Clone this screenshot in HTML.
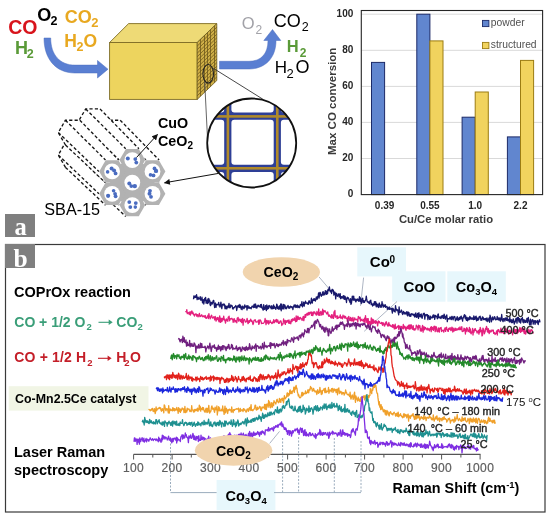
<!DOCTYPE html>
<html><head><meta charset="utf-8"><style>
html,body{margin:0;padding:0;background:#fff;}
body{width:550px;height:517px;overflow:hidden;position:relative;}
svg{position:absolute;left:0;top:0;}
</style></head><body>
<svg width="550" height="517" viewBox="0 0 550 517">
<text x="8.2" y="34.2" font-size="19.5" fill="#d8141c" font-weight="bold" text-anchor="start" font-family="'Liberation Sans', sans-serif" >CO</text>
<text x="37.2" y="20.9" font-size="18" fill="#000" font-weight="bold" text-anchor="start" font-family="'Liberation Sans', sans-serif" >O</text>
<text x="50.6" y="24.8" font-size="12.5" fill="#000" font-weight="bold" text-anchor="start" font-family="'Liberation Sans', sans-serif" >2</text>
<text x="64.8" y="23.2" font-size="18" fill="#e8a820" font-weight="bold" text-anchor="start" font-family="'Liberation Sans', sans-serif" >CO</text>
<text x="91.3" y="27.2" font-size="13" fill="#e8a820" font-weight="bold" text-anchor="start" font-family="'Liberation Sans', sans-serif" >2</text>
<text x="64.2" y="47" font-size="17.5" fill="#e8a820" font-weight="bold" text-anchor="start" font-family="'Liberation Sans', sans-serif" >H</text>
<text x="76.5" y="51.2" font-size="12.5" fill="#e8a820" font-weight="bold" text-anchor="start" font-family="'Liberation Sans', sans-serif" >2</text>
<text x="83.5" y="47" font-size="17.5" fill="#e8a820" font-weight="bold" text-anchor="start" font-family="'Liberation Sans', sans-serif" >O</text>
<text x="15" y="54" font-size="18" fill="#5a9a38" font-weight="bold" text-anchor="start" font-family="'Liberation Sans', sans-serif" >H</text>
<text x="26.8" y="58.2" font-size="12.5" fill="#5a9a38" font-weight="bold" text-anchor="start" font-family="'Liberation Sans', sans-serif" >2</text>
<path d="M44,38 C44,58 55,73 75,73 L97.5,73 L97.5,78 L108,69.2 L97.5,60.5 L97.5,65.1 L75,65.1 C60,65.1 50.7,55 50.7,38 Z" fill="#5a7fd2" stroke="#4a6cbf" stroke-width="0.5"/>
<polygon points="109.6,42.5 128.6,23.6 216.8,23.6 197.2,42.5" fill="#eeda76" stroke="#7e6c26" stroke-width="0.9"/>
<rect x="109.6" y="42.5" width="87.6" height="56.9" fill="#edd45e" stroke="#7e6c26" stroke-width="0.9"/>
<polygon points="197.2,42.5 216.8,23.6 216.8,80.5 197.2,99.4" fill="#d0b048" stroke="#6b5a1e" stroke-width="0.8"/>
<path d="M200.5,39.3 L200.5,96.2 M204.5,35.5 L204.5,92.4 M207.5,32.6 L207.5,89.5 M210.5,29.7 L210.5,86.6 M214.5,25.8 L214.5,82.7 M197.2,46.1 L216.8,27.2 M197.2,49.6 L216.8,30.7 M197.2,53.2 L216.8,34.3 M197.2,56.7 L216.8,37.8 M197.2,60.3 L216.8,41.4 M197.2,63.8 L216.8,44.9 M197.2,67.4 L216.8,48.5 M197.2,71 L216.8,52 M197.2,74.5 L216.8,55.6 M197.2,78.1 L216.8,59.2 M197.2,81.6 L216.8,62.7 M197.2,85.2 L216.8,66.3 M197.2,88.7 L216.8,69.8 M197.2,92.3 L216.8,73.4 M197.2,95.8 L216.8,76.9" stroke="#6a5418" stroke-width="0.75" fill="none"/>
<path d="M219.5,61.3 L249,61.3 C261,61.3 268,54 268,40.5 L263.8,40.5 L272.5,29.5 L280.8,40.5 L276,40.5 C276,59 264,69 249,69 L219.5,69 Z" fill="#5a7fd2" stroke="#4a6cbf" stroke-width="0.5"/>
<text x="241.8" y="29.2" font-size="16.5" fill="#a2a2a8" font-weight="normal" text-anchor="start" font-family="'Liberation Sans', sans-serif" >O</text>
<text x="255.4" y="33.8" font-size="12" fill="#a2a2a8" font-weight="normal" text-anchor="start" font-family="'Liberation Sans', sans-serif" >2</text>
<text x="273.8" y="27" font-size="18" fill="#000" font-weight="normal" text-anchor="start" font-family="'Liberation Sans', sans-serif" >CO</text>
<text x="301.8" y="31" font-size="12.5" fill="#000" font-weight="normal" text-anchor="start" font-family="'Liberation Sans', sans-serif" >2</text>
<text x="286.8" y="52.2" font-size="16.5" fill="#5a9a38" font-weight="bold" text-anchor="start" font-family="'Liberation Sans', sans-serif" >H</text>
<text x="299.8" y="57.3" font-size="12" fill="#5a9a38" font-weight="bold" text-anchor="start" font-family="'Liberation Sans', sans-serif" >2</text>
<text x="274.8" y="72.8" font-size="17" fill="#000" font-weight="normal" text-anchor="start" font-family="'Liberation Sans', sans-serif" >H</text>
<text x="286.6" y="77.6" font-size="13" fill="#000" font-weight="normal" text-anchor="start" font-family="'Liberation Sans', sans-serif" >2</text>
<text x="295.4" y="72.8" font-size="18" fill="#000" font-weight="normal" text-anchor="start" font-family="'Liberation Sans', sans-serif" >O</text>
<line x1="213.2" y1="68.2" x2="262.7" y2="99.1" stroke="#333" stroke-width="0.9"/>
<line x1="204.7" y1="82" x2="207.6" y2="140" stroke="#555" stroke-width="0.9"/>
<ellipse cx="208.2" cy="73.8" rx="5.3" ry="9.3" fill="none" stroke="#222" stroke-width="1.1"/>
<defs><clipPath id="cc"><circle cx="251.7" cy="143" r="44.5"/></clipPath></defs>
<g clip-path="url(#cc)">
<rect x="200" y="90" width="110" height="110" fill="#2e3f96"/>
<rect x="181.9" y="67.5" width="42.3" height="45" rx="3" fill="#fff"/>
<rect x="181.9" y="119.7" width="42.3" height="45" rx="3" fill="#fff"/>
<rect x="181.9" y="171.9" width="42.3" height="45" rx="3" fill="#fff"/>
<rect x="231.4" y="67.5" width="42.3" height="45" rx="3" fill="#fff"/>
<rect x="231.4" y="119.7" width="42.3" height="45" rx="3" fill="#fff"/>
<rect x="231.4" y="171.9" width="42.3" height="45" rx="3" fill="#fff"/>
<rect x="280.9" y="67.5" width="42.3" height="45" rx="3" fill="#fff"/>
<rect x="280.9" y="119.7" width="42.3" height="45" rx="3" fill="#fff"/>
<rect x="280.9" y="171.9" width="42.3" height="45" rx="3" fill="#fff"/>
<rect x="226.6" y="90" width="2.6" height="110" fill="#b08a2a"/>
<rect x="276" y="90" width="2.6" height="110" fill="#b08a2a"/>
<rect x="200" y="115.1" width="110" height="2.6" fill="#b08a2a"/>
<rect x="200" y="167" width="110" height="2.6" fill="#b08a2a"/>
</g>
<circle cx="251.7" cy="143" r="44.5" fill="none" stroke="#111" stroke-width="1.8"/>
<polygon points="105.8,167.4 98.7,155 105.8,142.6 120.2,142.6 159.1,182.4 165.7,193.8 159.1,205.2 145.9,205.2" fill="#fff" stroke="none"/>
<path d="M105.8,167.4 L98.7,155 L105.8,142.6 L120.2,142.6 M105.8,167.4 L145.9,205.2 M98.7,155 L139.3,193.8 M105.8,142.6 L145.9,182.4 M120.2,142.6 L159.1,182.4" fill="none" stroke="#151515" stroke-width="1.35" stroke-dasharray="3.2,2.2"/>
<polygon points="85.7,178.7 78.5,166.3 85.7,153.9 100,153.9 138.9,193.7 145.5,205.1 138.9,216.5 125.7,216.5" fill="#fff" stroke="none"/>
<path d="M85.7,178.7 L78.5,166.3 L85.7,153.9 L100,153.9 M85.7,178.7 L125.7,216.5 M78.5,166.3 L119.1,205.1 M85.7,153.9 L125.7,193.7 M100,153.9 L138.9,193.7" fill="none" stroke="#151515" stroke-width="1.35" stroke-dasharray="3.2,2.2"/>
<polygon points="105.8,145 98.7,132.6 105.8,120.2 120.2,120.2 159.1,160 165.7,171.4 159.1,182.8 145.9,182.8" fill="#fff" stroke="none"/>
<path d="M105.8,145 L98.7,132.6 L105.8,120.2 L120.2,120.2 M105.8,145 L145.9,182.8 M98.7,132.6 L139.3,171.4 M105.8,120.2 L145.9,160 M120.2,120.2 L159.1,160" fill="none" stroke="#151515" stroke-width="1.35" stroke-dasharray="3.2,2.2"/>
<polygon points="85.7,156.2 78.5,143.8 85.7,131.4 100,131.4 138.9,171.2 145.5,182.6 138.9,194 125.7,194" fill="#fff" stroke="none"/>
<path d="M85.7,156.2 L78.5,143.8 L85.7,131.4 L100,131.4 M85.7,156.2 L125.7,194 M78.5,143.8 L119.1,182.6 M85.7,131.4 L125.7,171.2 M100,131.4 L138.9,171.2" fill="none" stroke="#151515" stroke-width="1.35" stroke-dasharray="3.2,2.2"/>
<polygon points="65.5,167.4 58.3,155 65.4,142.6 79.8,142.6 118.7,182.4 125.3,193.8 118.7,205.2 105.5,205.2" fill="#fff" stroke="none"/>
<path d="M65.5,167.4 L58.3,155 L65.4,142.6 L79.8,142.6 M65.5,167.4 L105.5,205.2 M58.3,155 L98.9,193.8 M65.4,142.6 L105.5,182.4 M79.8,142.6 L118.7,182.4" fill="none" stroke="#151515" stroke-width="1.35" stroke-dasharray="3.2,2.2"/>
<polygon points="85.7,133.7 78.5,121.3 85.7,108.9 100,108.9 138.9,148.7 145.5,160.1 138.9,171.5 125.7,171.5" fill="#fff" stroke="none"/>
<path d="M85.7,133.7 L78.5,121.3 L85.7,108.9 L100,108.9 M85.7,133.7 L125.7,171.5 M78.5,121.3 L119.1,160.1 M85.7,108.9 L125.7,148.7 M100,108.9 L138.9,148.7" fill="none" stroke="#151515" stroke-width="1.35" stroke-dasharray="3.2,2.2"/>
<polygon points="65.5,145 58.3,132.6 65.4,120.2 79.8,120.2 118.7,160 125.3,171.4 118.7,182.8 105.5,182.8" fill="#fff" stroke="none"/>
<path d="M65.5,145 L58.3,132.6 L65.4,120.2 L79.8,120.2 M65.5,145 L105.5,182.8 M58.3,132.6 L98.9,171.4 M65.4,120.2 L105.5,160 M79.8,120.2 L118.7,160" fill="none" stroke="#151515" stroke-width="1.35" stroke-dasharray="3.2,2.2"/>
<polygon points="132.3,160.1 152.5,171.4 152.5,193.8 132.3,205.1 112.1,193.8 112.1,171.4" fill="#b2b2b2" stroke="#b2b2b2" stroke-width="4"/>
<polygon points="145.2,182.6 138.8,193.8 125.9,193.8 119.4,182.6 125.9,171.4 138.8,171.4" fill="#b2b2b2"/>
<polygon points="145.2,160.1 138.8,171.3 125.9,171.3 119.4,160.1 125.9,148.9 138.8,148.9" fill="#b2b2b2"/>
<polygon points="145.2,205.1 138.8,216.3 125.9,216.3 119.4,205.1 125.9,193.9 138.8,193.9" fill="#b2b2b2"/>
<polygon points="125,171.4 118.5,182.6 105.6,182.6 99.2,171.4 105.6,160.2 118.5,160.2" fill="#b2b2b2"/>
<polygon points="165.4,171.4 158.9,182.6 146.1,182.6 139.6,171.4 146,160.2 158.9,160.2" fill="#b2b2b2"/>
<polygon points="125,193.8 118.5,205 105.6,205 99.2,193.8 105.6,182.6 118.5,182.6" fill="#b2b2b2"/>
<polygon points="165.4,193.8 158.9,205 146.1,205 139.6,193.8 146,182.6 158.9,182.6" fill="#b2b2b2"/>
<circle cx="132.3" cy="182.6" r="7.9" fill="#fff"/>
<circle cx="132.3" cy="160.1" r="7.9" fill="#fff"/>
<circle cx="132.3" cy="205.1" r="7.9" fill="#fff"/>
<circle cx="112.1" cy="171.4" r="7.9" fill="#fff"/>
<circle cx="152.5" cy="171.4" r="7.9" fill="#fff"/>
<circle cx="112.1" cy="193.8" r="7.9" fill="#fff"/>
<circle cx="152.5" cy="193.8" r="7.9" fill="#fff"/>
<circle cx="127.8" cy="158.6" r="2" fill="#4a6cc0"/>
<circle cx="135.3" cy="159.1" r="1.9" fill="#4a6cc0"/>
<circle cx="136.3" cy="162.6" r="1.9" fill="#4a6cc0"/>
<circle cx="129.3" cy="183.6" r="2" fill="#4a6cc0"/>
<circle cx="131.3" cy="186.1" r="1.9" fill="#4a6cc0"/>
<circle cx="134.8" cy="186.1" r="2.2" fill="#4a6cc0"/>
<circle cx="129.3" cy="202.1" r="1.9" fill="#4a6cc0"/>
<circle cx="130.3" cy="207.1" r="1.9" fill="#4a6cc0"/>
<circle cx="135.8" cy="203.1" r="1.9" fill="#4a6cc0"/>
<circle cx="135.3" cy="207.1" r="1.8" fill="#4a6cc0"/>
<circle cx="107.6" cy="171.9" r="1.8" fill="#4a6cc0"/>
<circle cx="111.6" cy="168.4" r="2" fill="#4a6cc0"/>
<circle cx="114.1" cy="170.4" r="2" fill="#4a6cc0"/>
<circle cx="115.6" cy="173.4" r="1.9" fill="#4a6cc0"/>
<circle cx="154.5" cy="168.4" r="1.9" fill="#4a6cc0"/>
<circle cx="156" cy="170.9" r="2.2" fill="#4a6cc0"/>
<circle cx="153.5" cy="175.4" r="1.9" fill="#4a6cc0"/>
<circle cx="150.5" cy="174.9" r="1.8" fill="#4a6cc0"/>
<circle cx="108.1" cy="195.8" r="2.1" fill="#4a6cc0"/>
<circle cx="113.6" cy="190.8" r="1.8" fill="#4a6cc0"/>
<circle cx="115.1" cy="193.8" r="1.9" fill="#4a6cc0"/>
<circle cx="115.6" cy="196.3" r="1.9" fill="#4a6cc0"/>
<circle cx="150" cy="190.8" r="1.9" fill="#4a6cc0"/>
<circle cx="149.5" cy="193.8" r="2" fill="#4a6cc0"/>
<circle cx="151" cy="196.8" r="1.9" fill="#4a6cc0"/>
<defs><marker id="ah" viewBox="0 0 10 10" refX="9" refY="5" markerWidth="6.5" markerHeight="6" orient="auto"><path d="M0,0 L10,5 L0,10 z" fill="#111"/></marker></defs>
<line x1="136.5" y1="157.5" x2="157.5" y2="134.5" stroke="#111" stroke-width="1" marker-end="url(#ah)"/>
<line x1="218.5" y1="173.4" x2="164.5" y2="182.8" stroke="#111" stroke-width="1" marker-end="url(#ah)"/>
<text x="158" y="128.4" font-size="14.3" fill="#000" font-weight="bold" text-anchor="start" font-family="'Liberation Sans', sans-serif" >CuO</text>
<text x="158" y="145.8" font-size="14.3" fill="#000" font-weight="bold" font-family="'Liberation Sans', sans-serif">CeO<tspan font-size="10" dy="3.3">2</tspan></text>
<text x="44.3" y="215.4" font-size="16.2" fill="#000" font-weight="normal" text-anchor="start" font-family="'Liberation Sans', sans-serif" >SBA-15</text>
<rect x="5" y="214" width="30" height="23" fill="#7f7f7f"/>
<text x="14.5" y="234.6" font-size="24.5" fill="#fff" font-weight="bold" text-anchor="start" font-family="'Liberation Serif', serif" >a</text>
<line x1="361.3" y1="158.5" x2="542.6" y2="158.5" stroke="#d9d9d9" stroke-width="1"/>
<line x1="361.3" y1="122.4" x2="542.6" y2="122.4" stroke="#d9d9d9" stroke-width="1"/>
<line x1="361.3" y1="86.4" x2="542.6" y2="86.4" stroke="#d9d9d9" stroke-width="1"/>
<line x1="361.3" y1="50.3" x2="542.6" y2="50.3" stroke="#d9d9d9" stroke-width="1"/>
<line x1="361.3" y1="14.2" x2="542.6" y2="14.2" stroke="#d9d9d9" stroke-width="1"/>
<rect x="371.5" y="62.4" width="13.1" height="132.2" fill="#6186cf" stroke="#1c2a68" stroke-width="1"/>
<text x="384.6" y="208.8" font-size="10" fill="#262626" font-weight="bold" text-anchor="middle" font-family="'Liberation Sans', sans-serif" >0.39</text>
<rect x="416.8" y="14.2" width="13.1" height="180.4" fill="#6186cf" stroke="#1c2a68" stroke-width="1"/>
<rect x="429.9" y="40.9" width="13.1" height="153.7" fill="#f1d35e" stroke="#9c7c12" stroke-width="1"/>
<text x="429.9" y="208.8" font-size="10" fill="#262626" font-weight="bold" text-anchor="middle" font-family="'Liberation Sans', sans-serif" >0.55</text>
<rect x="462.1" y="117.2" width="13.1" height="77.4" fill="#6186cf" stroke="#1c2a68" stroke-width="1"/>
<rect x="475.2" y="92" width="13.1" height="102.6" fill="#f1d35e" stroke="#9c7c12" stroke-width="1"/>
<text x="475.2" y="208.8" font-size="10" fill="#262626" font-weight="bold" text-anchor="middle" font-family="'Liberation Sans', sans-serif" >1.0</text>
<rect x="507.4" y="136.9" width="13.1" height="57.7" fill="#6186cf" stroke="#1c2a68" stroke-width="1"/>
<rect x="520.5" y="60.4" width="13.1" height="134.2" fill="#f1d35e" stroke="#9c7c12" stroke-width="1"/>
<text x="520.5" y="208.8" font-size="10" fill="#262626" font-weight="bold" text-anchor="middle" font-family="'Liberation Sans', sans-serif" >2.2</text>
<rect x="361.3" y="10.5" width="181.3" height="184.1" fill="none" stroke="#262626" stroke-width="1.1"/>
<text x="353.3" y="196.9" font-size="10" fill="#262626" font-weight="bold" text-anchor="end" font-family="'Liberation Sans', sans-serif" >0</text>
<text x="353.3" y="160.8" font-size="10" fill="#262626" font-weight="bold" text-anchor="end" font-family="'Liberation Sans', sans-serif" >20</text>
<text x="353.3" y="124.7" font-size="10" fill="#262626" font-weight="bold" text-anchor="end" font-family="'Liberation Sans', sans-serif" >40</text>
<text x="353.3" y="88.7" font-size="10" fill="#262626" font-weight="bold" text-anchor="end" font-family="'Liberation Sans', sans-serif" >60</text>
<text x="353.3" y="52.6" font-size="10" fill="#262626" font-weight="bold" text-anchor="end" font-family="'Liberation Sans', sans-serif" >80</text>
<text x="353.3" y="16.5" font-size="10" fill="#262626" font-weight="bold" text-anchor="end" font-family="'Liberation Sans', sans-serif" >100</text>
<text x="446" y="223.2" font-size="11.3" fill="#3a3a3a" font-weight="bold" text-anchor="middle" font-family="'Liberation Sans', sans-serif" >Cu/Ce molar ratio</text>
<text x="0" y="0" font-size="11.5" fill="#3a3a3a" font-weight="bold" font-family="'Liberation Sans', sans-serif" text-anchor="middle" transform="translate(335.9,101.3) rotate(-90)">Max CO conversion</text>
<rect x="482.5" y="20.4" width="6.4" height="6.2" fill="#6186cf" stroke="#1c2a68" stroke-width="0.9"/>
<text x="490.8" y="26.2" font-size="10.3" fill="#505050" font-weight="normal" text-anchor="start" font-family="'Liberation Sans', sans-serif" >powder</text>
<rect x="482.5" y="42.4" width="6.4" height="6.2" fill="#f1d35e" stroke="#9c7c12" stroke-width="0.9"/>
<text x="490.8" y="47.7" font-size="10.3" fill="#505050" font-weight="normal" text-anchor="start" font-family="'Liberation Sans', sans-serif" >structured</text>
<rect x="5.5" y="244.5" width="539.5" height="267.5" fill="none" stroke="#3a3a3a" stroke-width="1.2"/>
<rect x="5" y="244" width="30" height="24" fill="#7f7f7f"/>
<text x="13.6" y="266.5" font-size="25.5" fill="#fff" font-weight="bold" text-anchor="start" font-family="'Liberation Serif', serif" >b</text>
<text x="14" y="297.4" font-size="14.5" fill="#000" font-weight="bold" text-anchor="start" font-family="'Liberation Sans', sans-serif" >COPrOx reaction</text>
<text x="14.3" y="327" font-size="14" fill="#3a9e78" font-weight="bold" text-anchor="start" font-family="'Liberation Sans', sans-serif" textLength="71" lengthAdjust="spacing">CO + 1/2 O</text>
<text x="86.6" y="330.2" font-size="9.5" fill="#3a9e78" font-weight="bold" text-anchor="start" font-family="'Liberation Sans', sans-serif" >2</text>
<line x1="98.5" y1="322.3" x2="110.7" y2="322.3" stroke="#3a9e78" stroke-width="1.1"/>
<polygon points="108.7,319.6 112.7,322.3 108.7,325" fill="#3a9e78"/>
<text x="116.3" y="327" font-size="14" fill="#3a9e78" font-weight="bold" text-anchor="start" font-family="'Liberation Sans', sans-serif" >CO</text>
<text x="137.4" y="330.2" font-size="9.5" fill="#3a9e78" font-weight="bold" text-anchor="start" font-family="'Liberation Sans', sans-serif" >2</text>
<text x="14.3" y="362.4" font-size="14" fill="#c41e28" font-weight="bold" text-anchor="start" font-family="'Liberation Sans', sans-serif" textLength="71.9" lengthAdjust="spacing">CO + 1/2 H</text>
<text x="87.2" y="365.6" font-size="9.5" fill="#c41e28" font-weight="bold" text-anchor="start" font-family="'Liberation Sans', sans-serif" >2</text>
<line x1="98" y1="358.3" x2="109.6" y2="358.3" stroke="#c41e28" stroke-width="1.1"/>
<polygon points="107.6,355.6 111.6,358.3 107.6,361" fill="#c41e28"/>
<text x="116.3" y="362.4" font-size="14" fill="#c41e28" font-weight="bold" text-anchor="start" font-family="'Liberation Sans', sans-serif" >H</text>
<text x="124.3" y="365.6" font-size="9.5" fill="#c41e28" font-weight="bold" text-anchor="start" font-family="'Liberation Sans', sans-serif" >2</text>
<text x="130" y="362.4" font-size="14" fill="#c41e28" font-weight="bold" text-anchor="start" font-family="'Liberation Sans', sans-serif" >O</text>
<rect x="8.7" y="386.2" width="139.8" height="24.4" fill="#f1f5e5"/>
<text x="15.1" y="402.6" font-size="12.4" fill="#000" font-weight="bold" text-anchor="start" font-family="'Liberation Sans', sans-serif" >Co-Mn2.5Ce catalyst</text>
<text x="14" y="456.9" font-size="14.5" fill="#000" font-weight="bold" text-anchor="start" font-family="'Liberation Sans', sans-serif" >Laser Raman</text>
<text x="14" y="474.5" font-size="14.5" fill="#000" font-weight="bold" text-anchor="start" font-family="'Liberation Sans', sans-serif" >spectroscopy</text>
<rect x="357.3" y="247.3" width="48.7" height="29.1" fill="#e7f7fc"/>
<rect x="392.2" y="271.3" width="53.3" height="30.4" fill="#e7f7fc"/>
<rect x="447.3" y="271.3" width="58.5" height="30.4" fill="#e7f7fc"/>
<rect x="216.6" y="480" width="58.8" height="30" fill="#e7f7fc"/>
<text x="369.8" y="267.4" font-size="15" fill="#000" font-weight="bold" text-anchor="start" font-family="'Liberation Sans', sans-serif" >Co</text>
<text x="389.4" y="263" font-size="10" fill="#000" font-weight="bold" text-anchor="start" font-family="'Liberation Sans', sans-serif" >0</text>
<text x="403.6" y="291.6" font-size="15" fill="#000" font-weight="bold" text-anchor="start" font-family="'Liberation Sans', sans-serif" >CoO</text>
<text x="455.8" y="291.6" font-size="14.5" fill="#000" font-weight="bold" font-family="'Liberation Sans', sans-serif">Co<tspan font-size="9.5" dy="3">3</tspan><tspan dy="-3">O</tspan><tspan font-size="9.5" dy="3">4</tspan></text>
<text x="225.5" y="501" font-size="14.5" fill="#000" font-weight="bold" font-family="'Liberation Sans', sans-serif">Co<tspan font-size="9.5" dy="3">3</tspan><tspan dy="-3">O</tspan><tspan font-size="9.5" dy="3">4</tspan></text>
<ellipse cx="281.4" cy="272" rx="38.7" ry="14.8" fill="#f1d4ae"/>
<text x="263.6" y="277.1" font-size="14.2" fill="#000" font-weight="bold" font-family="'Liberation Sans', sans-serif">CeO<tspan font-size="10" dy="3.2">2</tspan></text>
<line x1="319" y1="276.9" x2="329.3" y2="289" stroke="#98a2b4" stroke-width="0.8"/>
<line x1="363.6" y1="277.6" x2="360.5" y2="305.8" stroke="#98a2b4" stroke-width="0.8"/>
<line x1="397" y1="301.5" x2="364.2" y2="331.3" stroke="#98a2b4" stroke-width="0.8"/>
<line x1="170.5" y1="440" x2="170.5" y2="492.6" stroke="#8fa3b5" stroke-width="0.9" stroke-dasharray="2,1.5"/>
<line x1="282.6" y1="438" x2="282.6" y2="492.6" stroke="#8fa3b5" stroke-width="0.9" stroke-dasharray="2,1.5"/>
<line x1="298.6" y1="437" x2="298.6" y2="492.6" stroke="#8fa3b5" stroke-width="0.9" stroke-dasharray="2,1.5"/>
<line x1="334.3" y1="438" x2="334.3" y2="492.6" stroke="#8fa3b5" stroke-width="0.9" stroke-dasharray="2,1.5"/>
<line x1="361" y1="441" x2="361" y2="492.6" stroke="#8fa3b5" stroke-width="0.9" stroke-dasharray="2,1.5"/>
<line x1="170.5" y1="492.6" x2="216.6" y2="492.6" stroke="#8fa3b5" stroke-width="0.9"/>
<line x1="274" y1="492.6" x2="361" y2="492.6" stroke="#8fa3b5" stroke-width="0.9"/>
<polyline points="193.5,299.3 193.9,295.8 194.4,296.8 194.8,297.6 195.3,295.8 195.7,297.3 196.2,297.5 196.6,294.7 197.1,299.6 197.5,299.0 198.0,297.1 198.4,298.1 198.9,299.4 199.3,298.3 199.8,298.5 200.2,296.6 200.7,300.2 201.1,299.7 201.6,300.1 202.0,297.2 202.5,302.8 202.9,300.4 203.4,299.7 203.8,304.0 204.3,300.6 204.7,298.4 205.2,300.4 205.6,297.3 206.1,303.1 206.5,300.7 207.0,300.3 207.4,303.5 207.9,299.0 208.3,302.8 208.8,298.5 209.2,301.1 209.7,300.3 210.1,304.9 210.6,305.6 211.0,302.1 211.5,304.2 211.9,302.6 212.4,304.0 212.8,301.9 213.3,300.4 213.7,300.4 214.2,304.2 214.6,307.5 215.1,304.3 215.5,303.0 216.0,307.3 216.4,304.6 216.9,304.5 217.3,304.9 217.8,304.3 218.2,304.2 218.7,302.4 219.1,305.8 219.6,304.9 220.0,307.2 220.5,304.7 220.9,302.2 221.4,305.4 221.8,308.6 222.3,305.2 222.7,304.4 223.2,304.0 223.6,304.4 224.1,305.7 224.5,304.2 225.0,308.8 225.4,305.8 225.9,306.5 226.3,308.7 226.8,308.9 227.2,306.0 227.7,306.9 228.1,307.6 228.6,306.0 229.0,303.4 229.5,307.5 229.9,307.9 230.4,307.1 230.8,304.9 231.3,306.1 231.7,305.5 232.2,306.0 232.6,308.7 233.1,309.1 233.5,307.7 234.0,307.5 234.4,307.7 234.9,306.6 235.3,306.5 235.8,305.5 236.2,306.5 236.7,310.5 237.1,308.1 237.6,306.1 238.0,305.9 238.5,305.2 238.9,307.3 239.4,307.4 239.8,304.3 240.3,307.6 240.7,305.8 241.2,309.2 241.6,307.1 242.1,309.7 242.5,306.1 243.0,306.4 243.4,307.4 243.9,308.7 244.3,307.9 244.8,304.8 245.2,307.2 245.7,307.0 246.1,306.2 246.6,305.9 247.0,310.0 247.5,306.3 247.9,305.6 248.4,308.1 248.8,307.3 249.3,306.9 249.7,308.4 250.2,307.9 250.6,307.7 251.1,308.8 251.5,307.6 252.0,306.1 252.4,306.6 252.9,306.3 253.3,307.6 253.8,305.4 254.2,304.1 254.7,307.4 255.1,305.0 255.6,304.0 256.0,307.9 256.5,306.1 256.9,308.1 257.4,306.4 257.8,305.4 258.3,305.2 258.7,306.4 259.2,306.8 259.6,305.9 260.1,306.8 260.5,304.7 261.0,307.3 261.4,304.3 261.9,307.0 262.3,308.5 262.8,309.2 263.2,310.2 263.7,304.7 264.1,308.6 264.6,309.4 265.0,309.0 265.5,305.7 265.9,308.0 266.4,310.5 266.8,304.8 267.3,308.1 267.7,309.2 268.2,306.1 268.6,308.3 269.1,305.5 269.5,305.9 270.0,305.9 270.4,307.6 270.9,307.1 271.3,308.9 271.8,305.7 272.2,307.1 272.7,308.9 273.1,308.3 273.6,305.0 274.0,308.4 274.5,306.5 274.9,308.0 275.4,307.8 275.8,309.4 276.3,307.5 276.7,304.1 277.2,305.0 277.6,308.5 278.1,306.9 278.5,309.2 279.0,307.8 279.4,306.0 279.9,309.1 280.3,305.9 280.8,303.8 281.2,310.8 281.7,304.1 282.1,308.4 282.6,308.9 283.0,307.6 283.5,304.4 283.9,309.0 284.4,304.8 284.8,305.0 285.3,306.7 285.7,308.6 286.2,307.8 286.6,308.7 287.1,306.5 287.5,307.0 288.0,305.4 288.4,306.8 288.9,308.3 289.3,306.8 289.8,308.1 290.2,306.3 290.7,306.2 291.1,307.2 291.6,306.7 292.0,307.9 292.5,307.2 292.9,309.7 293.4,306.3 293.8,306.2 294.3,304.8 294.7,306.5 295.2,307.5 295.6,305.0 296.1,306.1 296.5,307.3 297.0,305.8 297.4,305.1 297.9,307.5 298.3,306.0 298.8,306.4 299.2,307.6 299.7,307.5 300.1,304.9 300.6,304.4 301.0,305.6 301.5,304.7 301.9,301.6 302.4,306.8 302.8,304.5 303.3,305.6 303.7,302.2 304.2,306.2 304.6,302.9 305.1,303.5 305.5,301.2 306.0,303.1 306.4,302.9 306.9,302.8 307.3,303.7 307.8,302.9 308.2,304.3 308.7,301.7 309.1,300.6 309.6,302.1 310.0,303.0 310.5,303.8 310.9,302.8 311.4,298.2 311.8,301.5 312.3,303.1 312.7,300.5 313.2,299.2 313.6,300.3 314.1,298.7 314.5,300.4 315.0,299.0 315.4,301.1 315.9,299.3 316.3,297.0 316.8,298.9 317.2,299.2 317.7,296.4 318.1,296.4 318.6,292.9 319.0,298.1 319.5,295.3 319.9,292.4 320.4,292.7 320.8,295.0 321.3,296.4 321.7,294.6 322.2,295.3 322.6,292.3 323.1,291.6 323.5,295.0 324.0,294.0 324.4,292.8 324.9,294.8 325.3,290.6 325.8,291.2 326.2,293.4 326.7,294.4 327.1,291.0 327.6,293.5 328.0,289.3 328.5,290.6 328.9,289.4 329.4,286.9 329.8,290.3 330.3,291.8 330.7,290.3 331.2,290.7 331.6,293.5 332.1,289.4 332.5,289.3 333.0,291.0 333.4,290.4 333.9,295.1 334.3,293.6 334.8,292.0 335.2,292.7 335.7,298.9 336.1,293.4 336.6,293.4 337.0,295.5 337.5,296.3 337.9,295.8 338.4,294.1 338.8,293.9 339.3,297.1 339.7,296.2 340.2,293.7 340.6,298.7 341.1,298.3 341.5,296.7 342.0,296.9 342.4,298.0 342.9,296.6 343.3,295.7 343.8,298.8 344.2,296.0 344.7,299.3 345.1,296.4 345.6,298.9 346.0,299.1 346.5,302.5 346.9,297.8 347.4,297.2 347.8,298.6 348.3,297.8 348.7,298.7 349.2,300.5 349.6,301.1 350.1,302.6 350.5,298.6 351.0,304.4 351.4,303.3 351.9,299.6 352.3,296.1 352.8,299.8 353.2,300.1 353.7,296.1 354.1,300.2 354.6,299.8 355.0,298.8 355.5,301.2 355.9,301.9 356.4,299.4 356.8,300.6 357.3,299.2 357.7,299.0 358.2,300.5 358.6,301.2 359.1,299.4 359.5,296.6 360.0,301.4 360.4,297.8 360.9,300.7 361.3,303.5 361.8,300.5 362.2,298.6 362.7,298.1 363.1,302.6 363.6,300.6 364.0,301.6 364.5,302.4 364.9,300.9 365.4,300.6 365.8,299.6 366.3,296.1 366.7,298.9 367.2,301.6 367.6,301.5 368.1,302.6 368.5,301.9 369.0,302.5 369.4,303.7 369.9,301.0 370.3,302.2 370.8,300.1 371.2,304.6 371.7,303.2 372.1,304.1 372.6,306.0 373.0,305.4 373.5,303.6 373.9,305.2 374.4,301.6 374.8,304.9 375.3,304.5 375.7,301.7 376.2,306.8 376.6,303.5 377.1,306.0 377.5,304.3 378.0,306.8 378.4,307.5 378.9,304.0 379.3,303.0 379.8,305.5 380.2,307.3 380.7,305.4 381.1,305.1 381.6,307.1 382.0,301.7 382.5,305.3 382.9,304.2 383.4,307.2 383.8,305.6 384.3,305.1 384.7,306.5 385.2,304.7 385.6,307.3 386.1,306.3 386.5,306.9 387.0,306.5 387.4,309.4 387.9,307.7 388.3,308.9 388.8,309.0 389.2,306.9 389.7,309.4 390.1,309.1 390.6,309.2 391.0,308.2 391.5,308.3 391.9,310.5 392.4,313.0 392.8,308.1 393.3,310.6 393.7,309.2 394.2,311.3 394.6,310.9 395.1,312.1 395.5,305.7 396.0,309.6 396.4,309.1 396.9,310.7 397.3,309.8 397.8,310.1 398.2,312.5 398.7,314.8 399.1,306.9 399.6,311.3 400.0,312.5 400.5,312.1 400.9,311.7 401.4,310.0 401.8,310.9 402.3,313.8 402.7,314.5 403.2,313.0 403.6,311.5 404.1,313.2 404.5,312.7 405.0,314.2 405.4,313.6 405.9,312.4 406.3,313.9 406.8,311.7 407.2,315.2 407.7,315.9 408.1,312.0 408.6,314.9 409.0,312.6 409.5,316.2 409.9,316.0 410.4,314.2 410.8,316.3 411.3,314.0 411.7,313.7 412.2,313.9 412.6,314.7 413.1,314.4 413.5,315.3 414.0,314.1 414.4,316.5 414.9,317.0 415.3,314.5 415.8,312.9 416.2,316.7 416.7,317.4 417.1,315.3 417.6,313.5 418.0,316.2 418.5,318.4 418.9,312.7 419.4,316.7 419.8,315.4 420.3,314.6 420.7,316.9 421.2,313.9 421.6,316.7 422.1,318.4 422.5,316.6 423.0,314.8 423.4,313.3 423.9,314.2 424.3,313.3 424.8,319.2 425.2,316.1 425.7,314.8 426.1,314.4 426.6,314.8 427.0,316.1 427.5,314.6 427.9,319.6 428.4,315.6 428.8,315.6 429.3,317.5 429.7,319.4 430.2,319.3 430.6,316.2 431.1,317.5 431.5,317.3 432.0,318.0 432.4,317.5 432.9,315.5 433.3,314.9 433.8,317.4 434.2,315.1 434.7,319.4 435.1,317.2 435.6,315.4 436.0,316.6 436.5,316.3 436.9,317.0 437.4,318.8 437.8,314.7 438.3,314.0 438.7,317.8 439.2,316.9 439.6,317.5 440.1,318.0 440.5,317.0 441.0,318.6 441.4,315.8 441.9,317.4 442.3,315.9 442.8,315.4 443.2,318.4 443.7,318.3 444.1,314.1 444.6,315.5 445.0,317.9 445.5,319.2 445.9,316.3 446.4,317.1 446.8,315.0 447.3,321.7 447.7,318.3 448.2,319.0 448.6,318.6 449.1,319.1 449.5,318.5 450.0,316.9 450.4,318.8 450.9,317.7 451.3,319.7 451.8,316.3 452.2,316.6 452.7,318.7 453.1,319.8 453.6,317.8 454.0,316.4 454.5,317.4 454.9,316.8 455.4,320.9 455.8,319.2 456.3,319.8 456.7,318.2 457.2,316.7 457.6,319.7 458.1,320.5 458.5,318.7 459.0,317.7 459.4,319.6 459.9,317.1 460.3,319.1 460.8,316.6 461.2,316.1 461.7,318.8 462.1,318.4 462.6,321.1 463.0,317.4 463.5,317.9 463.9,315.9 464.4,314.7 464.8,314.8 465.3,318.7 465.7,315.9 466.2,319.8 466.6,320.3 467.1,317.4 467.5,320.8 468.0,318.3 468.4,319.9 468.9,317.6 469.3,319.6 469.8,316.4 470.2,319.1 470.7,317.3 471.1,317.8 471.6,319.2 472.0,318.4 472.5,318.0 472.9,319.4 473.4,319.5 473.8,315.8 474.3,319.2 474.7,319.4 475.2,317.0 475.6,318.9 476.1,316.1 476.5,320.8 477.0,317.9 477.4,318.2 477.9,320.4 478.3,318.2 478.8,319.5 479.2,316.7 479.7,317.5 480.1,316.1 480.6,318.2 481.0,320.3 481.5,319.0 481.9,320.1 482.4,316.9 482.8,317.1 483.3,317.9 483.7,319.7 484.2,319.3 484.6,318.7 485.1,319.8 485.5,318.5 486.0,318.8 486.4,321.0 486.9,317.8 487.3,319.2 487.8,321.6 488.2,319.1 488.7,320.1 489.1,317.9 489.6,322.3 490.0,315.2 490.5,317.1 490.9,317.3 491.4,321.8 491.8,319.7 492.3,318.7 492.7,317.0 493.2,319.8 493.6,319.4 494.1,318.0 494.5,316.7 495.0,317.4 495.4,319.6 495.9,319.8 496.3,319.4 496.8,319.1 497.2,316.4 497.7,319.5 498.1,317.7 498.6,319.5 499.0,320.2 499.5,318.3 499.9,317.8 500.4,321.2 500.8,320.2 501.3,318.5 501.7,314.5 502.2,319.6 502.6,320.7 503.1,321.6 503.5,318.6 504.0,318.7 504.4,319.0 504.9,321.2 505.3,317.8 505.8,319.7 506.2,318.3 506.7,320.4 507.1,317.3 507.6,320.6 508.0,319.2 508.5,319.6 508.9,320.9 509.4,322.0 509.8,317.2 510.3,321.8 510.7,321.1 511.2,319.7 511.6,322.6 512.1,320.6 512.5,322.5 513.0,319.3 513.4,318.9 513.9,322.4 514.3,324.1 514.8,321.5 515.2,322.0 515.7,319.7 516.1,318.2 516.6,320.1 517.0,323.1 517.5,317.4 517.9,319.8 518.4,317.4 518.8,320.9 519.3,322.2 519.7,318.6 520.2,320.1 520.6,323.0 521.1,320.7 521.5,318.7 522.0,318.6 522.4,317.5 522.9,322.2 523.3,319.7 523.8,322.8 524.2,322.5 524.7,319.9 525.1,320.2 525.6,322.4 526.0,321.4 526.5,321.6 526.9,318.4 527.4,322.7 527.8,319.7 528.3,317.4 528.7,320.2 529.2,322.0 529.6,324.9 530.1,320.7 530.5,319.1 531.0,325.0 531.4,321.7 531.9,321.0 532.3,319.7 532.8,319.8 533.2,324.1 533.7,321.1 534.1,320.7 534.6,320.8 535.0,324.3 535.5,320.7 535.9,322.8 536.4,322.2 536.8,322.2 537.3,320.3 537.7,323.0 538.2,324.6 538.6,321.8 539.1,320.4 539.5,319.8 540.0,322.3" fill="none" stroke="#19196c" stroke-width="1.3" stroke-linejoin="round"/>
<polyline points="185.5,311.2 185.9,311.7 186.4,312.0 186.8,309.6 187.3,313.6 187.7,312.8 188.2,312.4 188.6,313.0 189.1,314.3 189.5,313.0 190.0,311.6 190.4,315.2 190.9,312.6 191.3,312.2 191.8,310.9 192.2,313.7 192.7,312.1 193.1,313.1 193.6,314.9 194.0,314.3 194.5,316.1 194.9,315.0 195.4,313.9 195.8,314.2 196.3,314.0 196.7,316.1 197.2,315.2 197.6,314.6 198.1,316.9 198.5,315.7 199.0,314.9 199.4,313.3 199.9,316.7 200.3,316.5 200.8,316.2 201.2,315.4 201.7,314.8 202.1,315.9 202.6,316.8 203.0,316.2 203.5,316.3 203.9,315.8 204.4,317.2 204.8,317.1 205.3,315.5 205.7,318.1 206.2,318.2 206.6,318.3 207.1,316.8 207.5,316.8 208.0,315.2 208.4,318.5 208.9,313.6 209.3,316.7 209.8,316.8 210.2,318.9 210.7,317.5 211.1,316.0 211.6,315.2 212.0,316.5 212.5,318.0 212.9,318.0 213.4,317.6 213.8,316.8 214.3,317.7 214.7,319.8 215.2,316.3 215.6,318.3 216.1,321.1 216.5,319.3 217.0,317.7 217.4,319.6 217.9,317.3 218.3,318.6 218.8,321.3 219.2,322.0 219.7,315.9 220.1,320.1 220.6,322.3 221.0,318.1 221.5,319.5 221.9,321.7 222.4,318.4 222.8,320.0 223.3,319.2 223.7,316.1 224.2,320.0 224.6,319.1 225.1,321.0 225.5,323.0 226.0,320.7 226.4,318.9 226.9,320.3 227.3,319.9 227.8,321.4 228.2,317.2 228.7,317.7 229.1,316.2 229.6,320.8 230.0,319.7 230.5,318.7 230.9,318.6 231.4,318.9 231.8,318.3 232.3,319.4 232.7,319.1 233.2,322.3 233.6,320.6 234.1,318.6 234.5,319.1 235.0,322.1 235.4,320.9 235.9,320.7 236.3,321.4 236.8,322.9 237.2,318.2 237.7,319.0 238.1,317.4 238.6,321.2 239.0,319.7 239.5,319.3 239.9,319.1 240.4,321.6 240.8,320.2 241.3,319.6 241.7,322.7 242.2,318.8 242.6,318.5 243.1,325.1 243.5,320.0 244.0,319.8 244.4,319.5 244.9,320.5 245.3,322.1 245.8,322.1 246.2,321.8 246.7,320.4 247.1,318.4 247.6,321.4 248.0,323.6 248.5,322.8 248.9,320.7 249.4,322.4 249.8,320.4 250.3,321.0 250.7,319.1 251.2,320.6 251.6,321.4 252.1,321.0 252.5,322.6 253.0,324.5 253.4,323.6 253.9,320.8 254.3,320.1 254.8,320.3 255.2,319.8 255.7,321.5 256.1,322.2 256.6,321.8 257.0,321.8 257.5,321.8 257.9,321.3 258.4,320.2 258.8,324.4 259.3,323.3 259.7,320.0 260.2,320.0 260.6,320.5 261.1,321.6 261.5,323.6 262.0,323.2 262.4,323.3 262.9,323.3 263.3,323.4 263.8,322.8 264.2,322.3 264.7,321.3 265.1,318.5 265.6,321.3 266.0,324.6 266.5,320.6 266.9,320.4 267.4,323.2 267.8,321.6 268.3,320.7 268.7,324.1 269.2,322.6 269.6,322.8 270.1,320.5 270.5,322.3 271.0,322.1 271.4,322.8 271.9,323.5 272.3,323.4 272.8,321.8 273.2,322.7 273.7,319.6 274.1,322.6 274.6,322.7 275.0,320.8 275.5,320.2 275.9,321.4 276.4,319.4 276.8,322.1 277.3,322.0 277.7,319.9 278.2,321.6 278.6,323.3 279.1,323.3 279.5,323.2 280.0,321.2 280.4,320.9 280.9,320.8 281.3,322.5 281.8,325.5 282.2,323.9 282.7,324.2 283.1,323.8 283.6,318.8 284.0,321.2 284.5,320.8 284.9,323.6 285.4,324.4 285.8,320.4 286.3,321.6 286.7,322.4 287.2,320.7 287.6,320.4 288.1,320.3 288.5,323.0 289.0,320.0 289.4,323.4 289.9,321.6 290.3,322.7 290.8,323.8 291.2,319.9 291.7,319.5 292.1,321.5 292.6,318.8 293.0,319.2 293.5,320.1 293.9,320.4 294.4,317.8 294.8,319.2 295.3,320.6 295.7,321.8 296.2,316.0 296.6,321.4 297.1,320.5 297.5,317.0 298.0,316.2 298.4,319.3 298.9,317.7 299.3,318.5 299.8,319.5 300.2,317.3 300.7,318.0 301.1,318.4 301.6,318.9 302.0,320.3 302.5,320.0 302.9,317.4 303.4,316.4 303.8,320.7 304.3,317.6 304.7,317.1 305.2,314.3 305.6,317.3 306.1,314.6 306.5,314.9 307.0,313.3 307.4,314.5 307.9,315.3 308.3,312.5 308.8,313.4 309.2,314.6 309.7,312.5 310.1,312.4 310.6,313.0 311.0,311.9 311.5,315.3 311.9,312.5 312.4,315.4 312.8,315.6 313.3,311.9 313.7,313.9 314.2,313.0 314.6,311.8 315.1,313.1 315.5,313.1 316.0,314.7 316.4,315.1 316.9,311.5 317.3,312.6 317.8,314.1 318.2,315.1 318.7,308.9 319.1,315.1 319.6,312.6 320.0,315.4 320.5,312.0 320.9,311.4 321.4,313.0 321.8,315.0 322.3,313.2 322.7,309.2 323.2,314.5 323.6,310.7 324.1,311.9 324.5,311.7 325.0,310.6 325.4,311.7 325.9,312.3 326.3,313.0 326.8,314.0 327.2,313.7 327.7,311.8 328.1,314.1 328.6,316.2 329.0,316.3 329.5,315.0 329.9,315.9 330.4,316.5 330.8,317.4 331.3,318.0 331.7,314.7 332.2,314.9 332.6,318.0 333.1,318.2 333.5,318.3 334.0,311.8 334.4,315.5 334.9,310.4 335.3,317.3 335.8,316.2 336.2,316.3 336.7,316.0 337.1,318.6 337.6,315.9 338.0,318.3 338.5,317.5 338.9,317.3 339.4,317.5 339.8,317.0 340.3,315.0 340.7,318.2 341.2,318.2 341.6,316.9 342.1,318.4 342.5,318.8 343.0,315.2 343.4,317.2 343.9,316.7 344.3,316.0 344.8,318.2 345.2,316.3 345.7,317.0 346.1,318.3 346.6,318.5 347.0,318.6 347.5,321.9 347.9,317.3 348.4,318.7 348.8,316.3 349.3,319.2 349.7,320.4 350.2,320.6 350.6,317.5 351.1,318.2 351.5,320.9 352.0,318.6 352.4,320.5 352.9,317.3 353.3,321.4 353.8,320.8 354.2,319.9 354.7,317.8 355.1,319.0 355.6,319.6 356.0,319.9 356.5,319.3 356.9,319.2 357.4,319.9 357.8,322.0 358.3,316.3 358.7,317.5 359.2,317.3 359.6,318.8 360.1,317.1 360.5,321.0 361.0,320.3 361.4,319.8 361.9,319.1 362.3,320.6 362.8,320.7 363.2,321.0 363.7,319.3 364.1,321.7 364.6,318.2 365.0,322.9 365.5,315.6 365.9,319.9 366.4,318.9 366.8,322.4 367.3,318.6 367.7,324.3 368.2,318.6 368.6,324.7 369.1,322.1 369.5,321.5 370.0,322.2 370.4,325.3 370.9,323.2 371.3,317.9 371.8,323.8 372.2,322.2 372.7,319.2 373.1,323.3 373.6,320.0 374.0,322.4 374.5,322.6 374.9,321.1 375.4,323.4 375.8,320.6 376.3,322.8 376.7,321.6 377.2,322.3 377.6,325.9 378.1,322.9 378.5,320.9 379.0,322.7 379.4,321.6 379.9,323.0 380.3,323.3 380.8,323.3 381.2,323.4 381.7,322.4 382.1,324.2 382.6,325.3 383.0,322.6 383.5,323.6 383.9,323.9 384.4,326.0 384.8,325.8 385.3,322.8 385.7,324.3 386.2,321.7 386.6,322.7 387.1,324.4 387.5,325.6 388.0,326.2 388.4,324.2 388.9,322.5 389.3,325.5 389.8,324.7 390.2,325.8 390.7,325.4 391.1,326.4 391.6,326.4 392.0,326.8 392.5,324.7 392.9,327.3 393.4,324.8 393.8,325.9 394.3,329.0 394.7,326.6 395.2,324.1 395.6,328.7 396.1,327.9 396.5,328.2 397.0,326.7 397.4,327.1 397.9,326.2 398.3,325.5 398.8,329.4 399.2,326.2 399.7,326.1 400.1,326.3 400.6,330.2 401.0,328.6 401.5,326.5 401.9,327.1 402.4,328.0 402.8,328.7 403.3,324.5 403.7,328.8 404.2,326.9 404.6,326.1 405.1,326.7 405.5,328.7 406.0,330.4 406.4,327.7 406.9,328.4 407.3,326.1 407.8,328.4 408.2,328.9 408.7,325.1 409.1,326.7 409.6,329.0 410.0,324.7 410.5,327.1 410.9,328.8 411.4,324.9 411.8,327.1 412.3,327.9 412.7,329.4 413.2,325.7 413.6,329.8 414.1,328.5 414.5,330.0 415.0,330.0 415.4,328.6 415.9,328.9 416.3,325.1 416.8,325.8 417.2,326.4 417.7,327.6 418.1,329.8 418.6,325.2 419.0,327.7 419.5,326.1 419.9,325.7 420.4,330.9 420.8,328.6 421.3,331.2 421.7,330.5 422.2,326.9 422.6,325.4 423.1,332.1 423.5,327.9 424.0,326.7 424.4,329.8 424.9,328.9 425.3,327.5 425.8,328.1 426.2,329.0 426.7,328.9 427.1,330.1 427.6,328.2 428.0,328.3 428.5,329.9 428.9,329.5 429.4,330.8 429.8,328.6 430.3,328.8 430.7,327.1 431.2,331.6 431.6,326.7 432.1,329.4 432.5,327.6 433.0,329.7 433.4,330.4 433.9,326.4 434.3,328.8 434.8,326.2 435.2,331.6 435.7,328.5 436.1,326.6 436.6,328.1 437.0,331.5 437.5,331.8 437.9,331.5 438.4,328.0 438.8,329.1 439.3,332.1 439.7,328.1 440.2,328.8 440.6,327.8 441.1,327.4 441.5,331.5 442.0,330.5 442.4,330.2 442.9,330.5 443.3,331.2 443.8,332.1 444.2,329.5 444.7,329.0 445.1,327.8 445.6,331.4 446.0,328.7 446.5,327.1 446.9,329.2 447.4,329.7 447.8,331.1 448.3,331.4 448.7,328.5 449.2,328.4 449.6,329.2 450.1,327.7 450.5,329.6 451.0,330.6 451.4,329.9 451.9,327.1 452.3,327.8 452.8,332.0 453.2,328.1 453.7,331.1 454.1,331.0 454.6,329.4 455.0,328.2 455.5,330.3 455.9,328.5 456.4,329.7 456.8,330.2 457.3,328.8 457.7,329.7 458.2,329.5 458.6,328.0 459.1,329.8 459.5,329.0 460.0,327.0 460.4,329.6 460.9,329.7 461.3,329.1 461.8,326.7 462.2,331.5 462.7,331.4 463.1,331.3 463.6,330.8 464.0,328.1 464.5,330.5 464.9,328.7 465.4,334.0 465.8,329.5 466.3,331.5 466.7,327.7 467.2,328.4 467.6,329.5 468.1,331.6 468.5,331.4 469.0,331.0 469.4,327.3 469.9,332.4 470.3,328.9 470.8,333.3 471.2,333.7 471.7,331.9 472.1,332.2 472.6,328.4 473.0,335.0 473.5,330.9 473.9,332.3 474.4,329.1 474.8,330.5 475.3,328.6 475.7,330.2 476.2,330.7 476.6,331.1 477.1,333.0 477.5,331.5 478.0,331.1 478.4,330.7 478.9,334.1 479.3,329.7 479.8,332.7 480.2,327.4 480.7,329.2 481.1,331.4 481.6,330.5 482.0,335.9 482.5,335.1 482.9,328.2 483.4,329.0 483.8,330.5 484.3,333.8 484.7,332.7 485.2,331.4 485.6,328.4 486.1,329.4 486.5,326.3 487.0,328.2 487.4,331.6 487.9,332.2 488.3,328.7 488.8,331.1 489.2,333.7 489.7,331.2 490.1,330.4 490.6,332.0 491.0,331.8 491.5,331.1 491.9,330.0 492.4,330.2 492.8,331.1 493.3,330.1 493.7,333.3 494.2,332.5 494.6,332.9 495.1,334.5 495.5,333.7 496.0,333.5 496.4,331.7 496.9,330.7 497.3,335.0 497.8,329.9 498.2,330.0 498.7,329.6 499.1,331.5 499.6,331.8 500.0,332.9 500.5,330.7 500.9,328.2 501.4,331.7 501.8,332.8 502.3,331.2 502.7,330.9 503.2,332.1 503.6,333.6 504.1,331.1 504.5,328.8 505.0,330.3 505.4,330.9 505.9,328.2 506.3,332.6 506.8,330.0 507.2,332.1 507.7,331.6 508.1,330.8 508.6,334.1 509.0,330.3 509.5,330.2 509.9,331.8 510.4,332.8 510.8,331.3 511.3,329.7 511.7,332.5 512.2,332.4 512.6,334.9 513.1,331.0 513.5,331.8 514.0,330.4 514.4,328.9 514.9,331.5 515.3,332.9 515.8,329.7 516.2,330.3 516.7,329.5 517.1,333.7 517.6,330.4 518.0,332.5 518.5,330.0 518.9,331.6 519.4,330.4 519.8,327.5 520.3,331.7 520.7,332.4 521.2,328.0 521.6,331.3 522.1,330.8 522.5,329.7 523.0,331.2 523.4,328.3 523.9,332.0 524.3,333.6 524.8,329.5 525.2,331.5 525.7,334.1 526.1,331.9 526.6,330.8 527.0,330.1 527.5,332.0 527.9,331.5 528.4,332.8 528.8,329.1 529.3,333.5 529.7,331.0 530.2,332.8 530.6,330.5 531.1,329.5 531.5,330.8 532.0,330.1 532.4,331.1 532.9,332.9 533.3,333.6" fill="none" stroke="#e4207e" stroke-width="1.3" stroke-linejoin="round"/>
<polyline points="178.4,339.5 178.8,338.5 179.3,338.8 179.7,340.8 180.2,341.9 180.6,339.6 181.1,340.1 181.5,339.2 182.0,341.0 182.4,342.5 182.9,336.1 183.3,341.7 183.8,340.5 184.2,337.6 184.7,342.3 185.1,341.8 185.6,342.8 186.0,340.0 186.5,346.1 186.9,342.9 187.4,342.3 187.8,345.7 188.3,344.4 188.7,344.9 189.2,345.6 189.6,340.3 190.1,346.8 190.5,343.6 191.0,344.8 191.4,346.1 191.9,343.5 192.3,345.5 192.8,346.4 193.2,345.2 193.7,346.3 194.1,342.9 194.6,343.8 195.0,344.1 195.5,346.8 195.9,352.6 196.4,346.7 196.8,346.0 197.3,346.2 197.7,348.0 198.2,347.6 198.6,344.5 199.1,348.2 199.5,346.5 200.0,347.9 200.4,343.2 200.9,344.0 201.3,347.6 201.8,343.6 202.2,347.4 202.7,347.3 203.1,347.0 203.6,347.4 204.0,347.3 204.5,347.6 204.9,346.2 205.4,346.9 205.8,351.9 206.3,348.9 206.7,348.1 207.2,347.7 207.6,345.9 208.1,347.5 208.5,346.7 209.0,348.8 209.4,345.7 209.9,343.2 210.3,346.3 210.8,348.5 211.2,351.5 211.7,349.1 212.1,345.8 212.6,347.1 213.0,345.9 213.5,347.2 213.9,346.0 214.4,344.8 214.8,348.4 215.3,348.0 215.7,347.4 216.2,348.3 216.6,351.2 217.1,348.0 217.5,347.2 218.0,349.3 218.4,345.1 218.9,349.2 219.3,346.6 219.8,346.6 220.2,348.2 220.7,350.9 221.1,346.7 221.6,349.6 222.0,348.7 222.5,345.7 222.9,349.6 223.4,346.6 223.8,345.6 224.3,346.7 224.7,346.8 225.2,349.1 225.6,346.8 226.1,350.6 226.5,348.5 227.0,346.9 227.4,346.7 227.9,348.5 228.3,344.7 228.8,344.4 229.2,346.6 229.7,349.2 230.1,348.4 230.6,348.2 231.0,347.8 231.5,344.5 231.9,347.6 232.4,345.1 232.8,349.6 233.3,348.2 233.7,348.0 234.2,348.9 234.6,348.7 235.1,348.6 235.5,348.8 236.0,347.2 236.4,345.9 236.9,348.8 237.3,350.7 237.8,350.0 238.2,347.9 238.7,349.3 239.1,347.5 239.6,348.9 240.0,347.2 240.5,348.5 240.9,351.7 241.4,349.6 241.8,350.8 242.3,347.0 242.7,347.1 243.2,348.2 243.6,349.3 244.1,348.0 244.5,350.0 245.0,347.4 245.4,350.7 245.9,350.0 246.3,346.5 246.8,349.3 247.2,348.0 247.7,350.1 248.1,347.5 248.6,348.9 249.0,349.3 249.5,343.7 249.9,345.2 250.4,348.6 250.8,348.1 251.3,350.0 251.7,348.6 252.2,346.0 252.6,348.7 253.1,346.8 253.5,347.6 254.0,347.1 254.4,348.5 254.9,345.4 255.3,345.9 255.8,344.0 256.2,351.3 256.7,345.9 257.1,346.1 257.6,345.6 258.0,346.4 258.5,346.7 258.9,348.4 259.4,347.6 259.8,347.8 260.3,346.2 260.7,347.1 261.2,349.2 261.6,347.0 262.1,347.5 262.5,343.5 263.0,347.8 263.4,347.3 263.9,349.0 264.3,342.1 264.8,346.8 265.2,346.5 265.7,346.8 266.1,345.5 266.6,346.9 267.0,347.6 267.5,346.5 267.9,345.8 268.4,345.9 268.8,345.6 269.3,346.3 269.7,344.9 270.2,342.7 270.6,348.3 271.1,343.0 271.5,345.7 272.0,343.6 272.4,345.3 272.9,344.1 273.3,345.6 273.8,344.2 274.2,343.4 274.7,346.1 275.1,347.8 275.6,346.0 276.0,345.6 276.5,343.6 276.9,345.1 277.4,346.0 277.8,344.1 278.3,346.7 278.7,345.0 279.2,345.6 279.6,344.1 280.1,344.1 280.5,345.1 281.0,345.2 281.4,344.9 281.9,342.4 282.3,342.7 282.8,343.7 283.2,340.4 283.7,345.2 284.1,343.7 284.6,343.1 285.0,341.6 285.5,344.0 285.9,342.0 286.4,345.5 286.8,342.7 287.3,339.3 287.7,342.9 288.2,340.6 288.6,340.4 289.1,340.7 289.5,340.7 290.0,341.2 290.4,341.9 290.9,341.1 291.3,338.9 291.8,337.7 292.2,338.4 292.7,340.2 293.1,340.9 293.6,342.3 294.0,336.8 294.5,339.0 294.9,338.3 295.4,337.9 295.8,338.6 296.3,337.8 296.7,337.6 297.2,336.8 297.6,338.4 298.1,339.4 298.5,340.2 299.0,336.4 299.4,335.3 299.9,336.5 300.3,335.2 300.8,338.0 301.2,334.6 301.7,335.8 302.1,333.0 302.6,334.4 303.0,334.9 303.5,336.9 303.9,332.8 304.4,334.2 304.8,329.7 305.3,330.9 305.7,331.2 306.2,331.4 306.6,332.6 307.1,332.6 307.5,328.5 308.0,331.8 308.4,328.4 308.9,332.9 309.3,329.8 309.8,329.0 310.2,327.8 310.7,327.5 311.1,327.1 311.6,325.3 312.0,327.2 312.5,325.9 312.9,326.1 313.4,324.2 313.8,324.9 314.3,321.9 314.7,328.7 315.2,320.9 315.6,320.8 316.1,322.6 316.5,323.3 317.0,320.4 317.4,319.4 317.9,320.3 318.3,321.4 318.8,322.2 319.2,323.8 319.7,326.3 320.1,326.8 320.6,324.4 321.0,326.8 321.5,327.9 321.9,329.2 322.4,326.9 322.8,326.3 323.3,329.1 323.7,330.8 324.2,327.6 324.6,332.2 325.1,332.1 325.5,329.1 326.0,327.2 326.4,329.2 326.9,329.9 327.3,331.7 327.8,328.3 328.2,335.6 328.7,335.8 329.1,330.9 329.6,328.9 330.0,331.5 330.5,332.2 330.9,333.5 331.4,332.1 331.8,330.2 332.3,326.9 332.7,330.8 333.2,331.1 333.6,328.8 334.1,329.5 334.5,329.1 335.0,328.0 335.4,326.1 335.9,328.4 336.3,325.1 336.8,329.6 337.2,325.4 337.7,327.4 338.1,325.0 338.6,326.6 339.0,325.3 339.5,326.3 339.9,323.7 340.4,322.1 340.8,324.4 341.3,324.3 341.7,322.3 342.2,323.7 342.6,322.0 343.1,325.1 343.5,324.2 344.0,324.9 344.4,329.3 344.9,325.1 345.3,325.5 345.8,325.9 346.2,324.6 346.7,323.9 347.1,326.4 347.6,326.6 348.0,319.9 348.5,324.6 348.9,324.3 349.4,323.9 349.8,327.0 350.3,324.0 350.7,326.3 351.2,323.9 351.6,324.1 352.1,326.0 352.5,323.5 353.0,324.5 353.4,322.9 353.9,323.2 354.3,325.9 354.8,325.7 355.2,322.7 355.7,322.7 356.1,329.0 356.6,323.5 357.0,323.1 357.5,325.5 357.9,323.3 358.4,323.9 358.8,326.1 359.3,326.2 359.7,324.2 360.2,326.8 360.6,324.2 361.1,324.1 361.5,324.4 362.0,323.9 362.4,325.3 362.9,324.9 363.3,323.1 363.8,324.7 364.2,323.5 364.7,323.6 365.1,324.6 365.6,326.7 366.0,325.7 366.5,327.6 366.9,328.3 367.4,325.8 367.8,325.0 368.3,324.9 368.7,326.9 369.2,328.2 369.6,329.6 370.1,324.9 370.5,328.9 371.0,329.3 371.4,331.9 371.9,328.3 372.3,328.1 372.8,325.8 373.2,327.2 373.7,326.9 374.1,327.3 374.6,327.7 375.0,326.8 375.5,329.6 375.9,330.7 376.4,331.7 376.8,330.6 377.3,332.9 377.7,333.3 378.2,329.2 378.6,331.7 379.1,330.3 379.5,331.1 380.0,333.4 380.4,333.3 380.9,336.3 381.3,337.6 381.8,335.2 382.2,334.5 382.7,334.9 383.1,335.5 383.6,336.8 384.0,334.9 384.5,337.5 384.9,336.4 385.4,339.0 385.8,339.8 386.3,340.7 386.7,337.8 387.2,336.1 387.6,335.9 388.1,338.5 388.5,336.9 389.0,336.9 389.4,339.4 389.9,338.6 390.3,341.8 390.8,344.2 391.2,340.8 391.7,342.0 392.1,339.1 392.6,342.4 393.0,341.2 393.5,339.9 393.9,337.9 394.4,343.2 394.8,337.1 395.3,337.2 395.7,338.7 396.2,338.5 396.6,337.9 397.1,336.9 397.5,334.5 398.0,336.6 398.4,334.9 398.9,331.4 399.3,335.8 399.8,331.8 400.2,333.3 400.7,328.4 401.1,328.9 401.6,331.4 402.0,332.7 402.5,337.0 402.9,334.0 403.4,338.5 403.8,338.0 404.3,342.1 404.7,343.1 405.2,342.9 405.6,348.3 406.1,345.2 406.5,347.8 407.0,344.4 407.4,347.1 407.9,348.2 408.3,348.9 408.8,348.8 409.2,348.7 409.7,345.5 410.1,350.3 410.6,349.8 411.0,351.0 411.5,353.0 411.9,355.4 412.4,352.7 412.8,353.6 413.3,353.0 413.7,353.3 414.2,353.2 414.6,351.8 415.1,351.8 415.5,353.0 416.0,355.6 416.4,354.0 416.9,355.5 417.3,350.6 417.8,353.4 418.2,353.7 418.7,354.0 419.1,350.9 419.6,350.2 420.0,349.8 420.5,352.9 420.9,357.6 421.4,354.1 421.8,351.8 422.3,354.5 422.7,353.5 423.2,354.4 423.6,353.5 424.1,352.1 424.5,353.5 425.0,355.7 425.4,355.1 425.9,356.8 426.3,353.0 426.8,356.7 427.2,355.1 427.7,355.4 428.1,357.3 428.6,355.1 429.0,355.8 429.5,356.6 429.9,356.7 430.4,357.0 430.8,357.9 431.3,356.6 431.7,355.0 432.2,360.0 432.6,355.8 433.1,356.6 433.5,354.7 434.0,352.3 434.4,354.7 434.9,356.2 435.3,357.0 435.8,356.2 436.2,357.5 436.7,357.9 437.1,357.9 437.6,356.3 438.0,356.5 438.5,356.0 438.9,354.9 439.4,358.9 439.8,354.4 440.3,356.4 440.7,357.0 441.2,353.0 441.6,357.9 442.1,356.1 442.5,357.1 443.0,356.2 443.4,354.2 443.9,357.2 444.3,357.1 444.8,358.6 445.2,357.8 445.7,354.1 446.1,358.9 446.6,358.4 447.0,358.4 447.5,358.0 447.9,356.0 448.4,358.1 448.8,356.7 449.3,362.2 449.7,356.9 450.2,355.5 450.6,356.8 451.1,359.9 451.5,356.5 452.0,353.4 452.4,360.1 452.9,358.2 453.3,356.8 453.8,358.9 454.2,356.2 454.7,355.8 455.1,359.4 455.6,357.0 456.0,358.8 456.5,357.9 456.9,359.4 457.4,358.2 457.8,354.6 458.3,359.2 458.7,357.3 459.2,359.7 459.6,358.4 460.1,360.7 460.5,357.7 461.0,354.8 461.4,357.8 461.9,359.3 462.3,357.8 462.8,357.7 463.2,361.0 463.7,358.3 464.1,360.4 464.6,358.9 465.0,356.2 465.5,357.1 465.9,358.2 466.4,359.3 466.8,357.4 467.3,356.4 467.7,357.2 468.2,358.0 468.6,357.4 469.1,358.0 469.5,362.2 470.0,359.5 470.4,357.7 470.9,359.1 471.3,361.8 471.8,360.2 472.2,359.0 472.7,356.9 473.1,356.3 473.6,358.6 474.0,359.0 474.5,356.5 474.9,357.0 475.4,359.2 475.8,355.5 476.3,356.4 476.7,359.2 477.2,360.3 477.6,359.9 478.1,361.1 478.5,362.1 479.0,361.0 479.4,359.0 479.9,363.1 480.3,362.4 480.8,361.1 481.2,358.1 481.7,360.2 482.1,356.0 482.6,359.0 483.0,355.4 483.5,358.9 483.9,361.4 484.4,359.7 484.8,362.4 485.3,359.7 485.7,359.9 486.2,359.2 486.6,360.7 487.1,359.7 487.5,361.9 488.0,362.6 488.4,360.5 488.9,358.0 489.3,360.8 489.8,362.2 490.2,361.0 490.7,360.4 491.1,361.6 491.6,362.2 492.0,355.6 492.5,362.6 492.9,361.4 493.4,360.9 493.8,359.1 494.3,360.5 494.7,361.2 495.2,357.6 495.6,361.4 496.1,360.3 496.5,362.7 497.0,361.4 497.4,359.9 497.9,360.3 498.3,361.4 498.8,360.5 499.2,361.2 499.7,359.1 500.1,358.2 500.6,359.4 501.0,358.0 501.5,359.1 501.9,361.0 502.4,357.7 502.8,358.4 503.3,361.7 503.7,359.6 504.2,360.5 504.6,358.4 505.1,358.8 505.5,360.1 506.0,363.4 506.4,361.4 506.9,357.8 507.3,361.4 507.8,362.2 508.2,361.9 508.7,358.6 509.1,360.6 509.6,364.3 510.0,359.2 510.5,361.3 510.9,359.5 511.4,358.6 511.8,360.1 512.3,362.6 512.7,362.8 513.2,359.4 513.6,360.1 514.1,359.4 514.5,357.4 515.0,362.0 515.4,363.6 515.9,363.5 516.3,360.2 516.8,363.3 517.2,362.9 517.7,360.5 518.1,361.1 518.6,360.5 519.0,361.5 519.5,364.2 519.9,359.6 520.4,359.2 520.8,362.7 521.3,361.3 521.7,358.0 522.2,359.5 522.6,359.9 523.1,360.3 523.5,361.9 524.0,363.0 524.4,361.1 524.9,361.6 525.3,360.1" fill="none" stroke="#70207f" stroke-width="1.3" stroke-linejoin="round"/>
<polyline points="170.4,357.9 170.8,358.4 171.3,355.7 171.7,355.0 172.2,359.8 172.6,357.9 173.1,354.8 173.5,353.5 174.0,355.9 174.4,358.4 174.9,355.5 175.3,356.1 175.8,355.7 176.2,357.6 176.7,358.9 177.1,354.5 177.6,356.1 178.0,356.3 178.5,355.6 178.9,354.7 179.4,358.1 179.8,357.0 180.3,358.0 180.7,359.4 181.2,356.3 181.6,357.8 182.1,356.2 182.5,356.8 183.0,357.6 183.4,356.8 183.9,354.5 184.3,359.7 184.8,357.4 185.2,355.2 185.7,353.4 186.1,357.2 186.6,358.4 187.0,359.0 187.5,359.2 187.9,356.7 188.4,358.5 188.8,354.8 189.3,357.7 189.7,359.0 190.2,356.4 190.6,357.2 191.1,357.7 191.5,357.8 192.0,360.1 192.4,355.8 192.9,360.0 193.3,355.6 193.8,356.6 194.2,356.4 194.7,357.6 195.1,357.0 195.6,358.7 196.0,357.9 196.5,361.7 196.9,358.6 197.4,357.5 197.8,358.6 198.3,359.1 198.7,357.7 199.2,356.2 199.6,356.8 200.1,358.5 200.5,359.6 201.0,359.0 201.4,358.0 201.9,359.2 202.3,357.4 202.8,358.7 203.2,360.7 203.7,360.1 204.1,360.6 204.6,357.6 205.0,358.6 205.5,356.6 205.9,359.9 206.4,357.6 206.8,356.1 207.3,357.5 207.7,358.8 208.2,354.6 208.6,356.0 209.1,360.1 209.5,358.6 210.0,358.3 210.4,355.7 210.9,361.1 211.3,360.2 211.8,359.6 212.2,356.6 212.7,359.5 213.1,360.4 213.6,357.9 214.0,358.1 214.5,357.7 214.9,359.6 215.4,358.1 215.8,358.0 216.3,356.1 216.7,355.8 217.2,360.2 217.6,361.3 218.1,360.1 218.5,361.0 219.0,357.7 219.4,358.6 219.9,359.3 220.3,358.4 220.8,361.5 221.2,356.4 221.7,357.7 222.1,358.1 222.6,357.5 223.0,360.2 223.5,355.4 223.9,360.7 224.4,360.3 224.8,359.3 225.3,361.2 225.7,362.8 226.2,359.1 226.6,360.1 227.1,359.5 227.5,359.7 228.0,358.0 228.4,357.7 228.9,359.9 229.3,358.0 229.8,360.5 230.2,360.3 230.7,358.2 231.1,359.6 231.6,359.1 232.0,358.8 232.5,360.9 232.9,359.1 233.4,359.4 233.8,355.8 234.3,360.1 234.7,356.6 235.2,358.4 235.6,361.8 236.1,362.1 236.5,358.5 237.0,357.0 237.4,359.8 237.9,358.5 238.3,359.7 238.8,356.9 239.2,361.1 239.7,361.8 240.1,356.8 240.6,357.9 241.0,358.1 241.5,360.5 241.9,355.9 242.4,359.6 242.8,358.9 243.3,358.0 243.7,360.5 244.2,356.0 244.6,357.0 245.1,358.0 245.5,360.6 246.0,358.8 246.4,358.0 246.9,360.2 247.3,358.6 247.8,358.3 248.2,358.9 248.7,360.0 249.1,364.0 249.6,357.6 250.0,360.0 250.5,359.2 250.9,359.0 251.4,362.0 251.8,360.7 252.3,360.5 252.7,358.5 253.2,357.8 253.6,359.7 254.1,358.7 254.5,358.2 255.0,360.3 255.4,357.0 255.9,357.8 256.3,360.4 256.8,358.9 257.2,360.1 257.7,357.5 258.1,360.1 258.6,357.7 259.0,361.1 259.5,360.1 259.9,359.6 260.4,361.3 260.8,359.3 261.3,357.6 261.7,361.3 262.2,359.2 262.6,360.6 263.1,358.8 263.5,360.5 264.0,357.0 264.4,356.3 264.9,356.0 265.3,359.7 265.8,355.0 266.2,355.3 266.7,355.9 267.1,358.6 267.6,359.0 268.0,356.8 268.5,359.5 268.9,358.7 269.4,360.1 269.8,359.6 270.3,356.8 270.7,358.3 271.2,357.7 271.6,358.7 272.1,358.2 272.5,357.9 273.0,359.0 273.4,357.9 273.9,359.0 274.3,357.8 274.8,357.4 275.2,359.2 275.7,359.2 276.1,359.7 276.6,358.6 277.0,357.1 277.5,357.8 277.9,357.7 278.4,354.4 278.8,355.5 279.3,359.9 279.7,357.2 280.2,352.4 280.6,357.0 281.1,357.4 281.5,355.0 282.0,360.9 282.4,358.8 282.9,358.2 283.3,356.5 283.8,357.5 284.2,358.1 284.7,357.4 285.1,355.4 285.6,356.8 286.0,356.6 286.5,356.8 286.9,354.5 287.4,356.7 287.8,356.1 288.3,356.5 288.7,356.3 289.2,353.5 289.6,357.3 290.1,357.1 290.5,353.5 291.0,355.5 291.4,354.2 291.9,354.8 292.3,357.2 292.8,356.3 293.2,358.7 293.7,355.4 294.1,353.3 294.6,355.3 295.0,350.9 295.5,358.0 295.9,355.4 296.4,355.6 296.8,355.0 297.3,353.3 297.7,354.4 298.2,353.2 298.6,353.6 299.1,355.0 299.5,352.3 300.0,357.1 300.4,352.4 300.9,355.6 301.3,353.0 301.8,351.9 302.2,354.6 302.7,354.1 303.1,353.4 303.6,353.6 304.0,352.6 304.5,354.3 304.9,352.7 305.4,353.5 305.8,355.3 306.3,351.1 306.7,352.3 307.2,352.0 307.6,351.7 308.1,350.7 308.5,352.5 309.0,353.1 309.4,352.6 309.9,350.0 310.3,353.6 310.8,353.2 311.2,351.7 311.7,349.5 312.1,349.3 312.6,353.6 313.0,352.8 313.5,350.3 313.9,347.5 314.4,350.6 314.8,348.1 315.3,350.0 315.7,345.6 316.2,347.4 316.6,347.1 317.1,349.6 317.5,348.1 318.0,351.6 318.4,349.5 318.9,348.9 319.3,351.5 319.8,351.1 320.2,347.3 320.7,351.0 321.1,351.4 321.6,351.8 322.0,355.1 322.5,350.4 322.9,351.3 323.4,348.4 323.8,348.7 324.3,350.1 324.7,350.7 325.2,350.5 325.6,351.8 326.1,351.9 326.5,352.2 327.0,350.1 327.4,351.1 327.9,349.0 328.3,350.7 328.8,350.8 329.2,349.0 329.7,344.3 330.1,348.5 330.6,353.9 331.0,349.3 331.5,348.2 331.9,349.4 332.4,351.0 332.8,349.6 333.3,348.5 333.7,346.6 334.2,348.2 334.6,346.5 335.1,349.1 335.5,350.9 336.0,350.0 336.4,347.1 336.9,346.4 337.3,345.6 337.8,348.6 338.2,348.7 338.7,348.9 339.1,348.1 339.6,345.3 340.0,344.0 340.5,349.0 340.9,345.6 341.4,350.1 341.8,343.2 342.3,344.8 342.7,345.0 343.2,346.9 343.6,347.5 344.1,345.3 344.5,347.1 345.0,343.8 345.4,345.0 345.9,343.7 346.3,344.7 346.8,344.4 347.2,345.9 347.7,351.1 348.1,342.8 348.6,344.7 349.0,346.1 349.5,344.9 349.9,347.1 350.4,343.0 350.8,346.1 351.3,343.5 351.7,346.3 352.2,345.2 352.6,345.4 353.1,344.1 353.5,342.0 354.0,343.3 354.4,346.4 354.9,344.9 355.3,346.6 355.8,343.2 356.2,346.6 356.7,347.2 357.1,341.8 357.6,346.2 358.0,349.0 358.5,344.5 358.9,347.5 359.4,346.0 359.8,347.4 360.3,345.3 360.7,344.7 361.2,345.4 361.6,345.5 362.1,345.2 362.5,344.7 363.0,348.1 363.4,345.3 363.9,344.3 364.3,344.8 364.8,347.3 365.2,342.7 365.7,347.4 366.1,347.8 366.6,348.8 367.0,345.9 367.5,345.3 367.9,347.1 368.4,347.1 368.8,349.1 369.3,347.0 369.7,346.2 370.2,344.8 370.6,346.8 371.1,347.5 371.5,349.5 372.0,347.8 372.4,350.1 372.9,350.1 373.3,346.8 373.8,346.3 374.2,347.3 374.7,348.1 375.1,347.3 375.6,350.0 376.0,350.1 376.5,351.2 376.9,349.8 377.4,348.7 377.8,350.3 378.3,348.2 378.7,350.1 379.2,348.7 379.6,352.2 380.1,345.8 380.5,351.9 381.0,352.1 381.4,350.7 381.9,351.5 382.3,351.4 382.8,353.4 383.2,354.0 383.7,350.9 384.1,353.4 384.6,349.2 385.0,350.7 385.5,350.5 385.9,347.3 386.4,349.8 386.8,347.8 387.3,350.0 387.7,346.9 388.2,345.1 388.6,345.6 389.1,347.6 389.5,347.8 390.0,347.6 390.4,345.4 390.9,347.8 391.3,345.3 391.8,345.6 392.2,347.4 392.7,345.2 393.1,342.0 393.6,346.2 394.0,344.7 394.5,343.8 394.9,346.4 395.4,342.9 395.8,344.8 396.3,344.2 396.7,348.9 397.2,342.0 397.6,345.9 398.1,346.9 398.5,349.6 399.0,348.5 399.4,349.6 399.9,354.4 400.3,352.2 400.8,354.1 401.2,354.2 401.7,355.7 402.1,353.4 402.6,355.5 403.0,356.9 403.5,357.3 403.9,359.0 404.4,358.1 404.8,358.2 405.3,357.2 405.7,359.5 406.2,356.4 406.6,357.4 407.1,355.1 407.5,355.9 408.0,359.2 408.4,357.7 408.9,354.7 409.3,357.9 409.8,357.6 410.2,356.1 410.7,358.7 411.1,357.7 411.6,358.3 412.0,359.9 412.5,357.3 412.9,360.3 413.4,358.1 413.8,358.2 414.3,360.9 414.7,359.4 415.2,358.1 415.6,358.7 416.1,359.3 416.5,356.5 417.0,360.2 417.4,359.1 417.9,357.0 418.3,357.7 418.8,360.8 419.2,357.2 419.7,363.1 420.1,357.7 420.6,359.9 421.0,355.3 421.5,359.6 421.9,358.9 422.4,360.7 422.8,360.2 423.3,359.4 423.7,363.7 424.2,361.4 424.6,358.9 425.1,360.8 425.5,355.4 426.0,359.4 426.4,362.5 426.9,359.5 427.3,360.8 427.8,358.7 428.2,362.0 428.7,360.9 429.1,360.8 429.6,362.5 430.0,363.7 430.5,362.3 430.9,358.0 431.4,361.7 431.8,361.5 432.3,359.1 432.7,358.3 433.2,360.4 433.6,360.6 434.1,361.0 434.5,359.9 435.0,361.5 435.4,361.7 435.9,360.8 436.3,361.9 436.8,360.3 437.2,358.6 437.7,361.3 438.1,362.9 438.6,366.0 439.0,357.8 439.5,360.6 439.9,360.0 440.4,362.0 440.8,360.0 441.3,361.8 441.7,363.3 442.2,360.3 442.6,361.5 443.1,364.4 443.5,363.2 444.0,359.0 444.4,365.3 444.9,360.6 445.3,362.3 445.8,361.1 446.2,361.1 446.7,360.7 447.1,363.0 447.6,360.6 448.0,359.8 448.5,361.0 448.9,362.0 449.4,358.6 449.8,363.4 450.3,360.9 450.7,363.3 451.2,364.5 451.6,362.7 452.1,363.1 452.5,361.5 453.0,361.1 453.4,359.0 453.9,362.0 454.3,361.4 454.8,358.3 455.2,362.8 455.7,365.0 456.1,363.1 456.6,364.4 457.0,362.0 457.5,360.8 457.9,362.6 458.4,362.0 458.8,360.7 459.3,364.4 459.7,362.9 460.2,361.5 460.6,363.0 461.1,362.5 461.5,363.8 462.0,365.5 462.4,361.7 462.9,360.8 463.3,365.2 463.8,366.9 464.2,361.9 464.7,361.4 465.1,360.9 465.6,363.0 466.0,363.2 466.5,362.6 466.9,364.5 467.4,361.7 467.8,362.1 468.3,361.0 468.7,365.5 469.2,365.0 469.6,365.4 470.1,361.8 470.5,365.6 471.0,363.8 471.4,364.6 471.9,364.3 472.3,362.8 472.8,363.1 473.2,360.8 473.7,362.5 474.1,363.1 474.6,361.6 475.0,363.7 475.5,365.7 475.9,362.8 476.4,362.0 476.8,362.2 477.3,364.0 477.7,366.7 478.2,364.0 478.6,363.9 479.1,361.7 479.5,364.4 480.0,364.9 480.4,363.2 480.9,363.9 481.3,362.8 481.8,365.2 482.2,366.2 482.7,364.6 483.1,364.9 483.6,364.1 484.0,363.0 484.5,362.8 484.9,363.4 485.4,364.4 485.8,364.2 486.3,365.9 486.7,365.5 487.2,366.8 487.6,365.6 488.1,363.9 488.5,364.5 489.0,361.6 489.4,367.2 489.9,363.4 490.3,363.8 490.8,367.6 491.2,362.7 491.7,363.5 492.1,364.4 492.6,363.6 493.0,364.8 493.5,365.1 493.9,365.7 494.4,364.5 494.8,365.9 495.3,364.2 495.7,365.8 496.2,366.8 496.6,361.9 497.1,364.5 497.5,365.2 498.0,361.7 498.4,359.8 498.9,365.5 499.3,363.9 499.8,366.3 500.2,365.0 500.7,365.0 501.1,364.5 501.6,365.3 502.0,363.6 502.5,364.3 502.9,366.5 503.4,364.8 503.8,366.1 504.3,365.3 504.7,364.7 505.2,363.7 505.6,366.8 506.1,364.0 506.5,366.0 507.0,362.8 507.4,365.9 507.9,366.1 508.3,364.4 508.8,362.8 509.2,365.3 509.7,365.8 510.1,364.7 510.6,364.5 511.0,367.2 511.5,365.5 511.9,365.0 512.4,367.2 512.8,365.7 513.3,364.6 513.7,367.3 514.2,365.2 514.6,367.4 515.1,364.8 515.5,366.5 516.0,368.0 516.4,366.7" fill="none" stroke="#238a2a" stroke-width="1.3" stroke-linejoin="round"/>
<polyline points="163.8,377.1 164.2,377.1 164.7,377.8 165.1,376.5 165.6,377.1 166.0,376.0 166.5,379.7 166.9,375.0 167.4,377.9 167.8,374.9 168.3,377.5 168.7,378.8 169.2,374.8 169.6,379.6 170.1,375.1 170.5,375.3 171.0,377.3 171.4,374.9 171.9,378.4 172.3,377.6 172.8,372.3 173.2,374.5 173.7,375.7 174.1,377.6 174.6,375.1 175.0,375.7 175.5,378.0 175.9,375.3 176.4,377.5 176.8,374.8 177.3,378.8 177.7,379.5 178.2,375.2 178.6,373.2 179.1,374.4 179.5,378.8 180.0,376.3 180.4,379.0 180.9,375.1 181.3,375.7 181.8,377.2 182.2,379.2 182.7,377.0 183.1,375.7 183.6,378.0 184.0,377.6 184.5,378.4 184.9,377.2 185.4,376.5 185.8,377.6 186.3,373.5 186.7,378.1 187.2,379.7 187.6,378.6 188.1,376.1 188.5,375.2 189.0,380.0 189.4,377.0 189.9,377.5 190.3,378.2 190.8,376.9 191.2,378.0 191.7,380.5 192.1,377.1 192.6,381.2 193.0,378.7 193.5,378.6 193.9,379.7 194.4,379.7 194.8,379.9 195.3,379.1 195.7,377.2 196.2,381.0 196.6,378.0 197.1,376.9 197.5,379.8 198.0,379.4 198.4,378.3 198.9,378.5 199.3,379.4 199.8,381.7 200.2,378.3 200.7,376.4 201.1,377.5 201.6,379.4 202.0,378.2 202.5,377.4 202.9,379.8 203.4,379.8 203.8,378.3 204.3,379.1 204.7,377.6 205.2,377.6 205.6,378.1 206.1,376.4 206.5,379.3 207.0,378.6 207.4,377.9 207.9,378.9 208.3,379.0 208.8,377.5 209.2,377.8 209.7,377.5 210.1,381.1 210.6,376.0 211.0,378.7 211.5,380.2 211.9,377.0 212.4,377.3 212.8,377.2 213.3,375.9 213.7,380.9 214.2,378.5 214.6,377.0 215.1,377.8 215.5,379.2 216.0,378.3 216.4,377.4 216.9,379.8 217.3,377.4 217.8,378.3 218.2,379.2 218.7,377.7 219.1,379.1 219.6,377.9 220.0,383.5 220.5,378.3 220.9,380.2 221.4,377.6 221.8,377.2 222.3,378.9 222.7,378.5 223.2,378.5 223.6,379.0 224.1,380.6 224.5,382.3 225.0,382.5 225.4,379.3 225.9,382.2 226.3,382.0 226.8,378.1 227.2,378.4 227.7,379.0 228.1,382.5 228.6,379.0 229.0,378.8 229.5,381.6 229.9,379.0 230.4,379.0 230.8,380.3 231.3,379.6 231.7,375.3 232.2,377.2 232.6,380.5 233.1,377.0 233.5,381.4 234.0,379.3 234.4,379.8 234.9,379.9 235.3,376.4 235.8,378.3 236.2,377.7 236.7,379.9 237.1,382.1 237.6,379.1 238.0,379.7 238.5,376.3 238.9,378.9 239.4,379.2 239.8,379.3 240.3,380.6 240.7,381.9 241.2,379.5 241.6,380.1 242.1,376.8 242.5,380.4 243.0,379.4 243.4,376.3 243.9,379.8 244.3,378.0 244.8,380.8 245.2,379.8 245.7,379.1 246.1,381.8 246.6,378.6 247.0,378.3 247.5,378.9 247.9,379.0 248.4,377.3 248.8,379.6 249.3,379.3 249.7,377.7 250.2,375.9 250.6,380.5 251.1,380.7 251.5,379.9 252.0,380.0 252.4,381.4 252.9,378.9 253.3,381.0 253.8,378.0 254.2,376.8 254.7,378.2 255.1,377.6 255.6,378.9 256.0,381.1 256.5,378.7 256.9,379.7 257.4,381.5 257.8,380.9 258.3,378.0 258.7,376.7 259.2,381.3 259.6,375.9 260.1,374.6 260.5,374.2 261.0,379.5 261.4,375.0 261.9,377.0 262.3,377.2 262.8,379.6 263.2,375.0 263.7,377.4 264.1,377.7 264.6,379.6 265.0,376.7 265.5,377.5 265.9,376.6 266.4,378.8 266.8,378.5 267.3,376.2 267.7,377.8 268.2,374.3 268.6,376.9 269.1,375.2 269.5,376.0 270.0,378.3 270.4,380.2 270.9,376.9 271.3,376.2 271.8,375.9 272.2,377.6 272.7,376.0 273.1,377.9 273.6,378.8 274.0,377.2 274.5,375.5 274.9,377.4 275.4,374.9 275.8,373.0 276.3,377.9 276.7,379.1 277.2,378.1 277.6,375.2 278.1,370.0 278.5,374.4 279.0,376.7 279.4,374.9 279.9,377.9 280.3,374.0 280.8,376.0 281.2,375.4 281.7,375.2 282.1,372.2 282.6,374.2 283.0,374.6 283.5,373.3 283.9,371.6 284.4,372.8 284.8,371.8 285.3,373.8 285.7,374.7 286.2,373.4 286.6,373.3 287.1,372.1 287.5,372.6 288.0,368.7 288.4,372.0 288.9,373.2 289.3,370.6 289.8,372.5 290.2,368.5 290.7,371.0 291.1,370.4 291.6,371.3 292.0,370.5 292.5,373.9 292.9,364.5 293.4,367.2 293.8,368.4 294.3,369.5 294.7,368.0 295.2,367.8 295.6,366.1 296.1,366.2 296.5,366.9 297.0,370.7 297.4,366.6 297.9,372.5 298.3,369.4 298.8,366.9 299.2,368.6 299.7,368.7 300.1,364.8 300.6,363.8 301.0,368.9 301.5,364.5 301.9,367.4 302.4,366.8 302.8,362.6 303.3,366.3 303.7,366.0 304.2,366.9 304.6,364.2 305.1,364.6 305.5,364.0 306.0,362.5 306.4,365.2 306.9,363.6 307.3,363.2 307.8,359.6 308.2,359.4 308.7,354.1 309.1,353.1 309.6,354.8 310.0,353.6 310.5,354.2 310.9,356.0 311.4,355.3 311.8,360.7 312.3,363.6 312.7,363.5 313.2,362.3 313.6,367.5 314.1,365.5 314.5,363.2 315.0,364.2 315.4,362.7 315.9,362.7 316.3,362.7 316.8,364.7 317.2,367.1 317.7,367.9 318.1,366.7 318.6,368.9 319.0,368.3 319.5,365.6 319.9,366.4 320.4,367.8 320.8,367.8 321.3,367.8 321.7,363.0 322.2,361.4 322.6,367.5 323.1,362.9 323.5,364.4 324.0,362.1 324.4,359.1 324.9,363.2 325.3,360.9 325.8,362.0 326.2,360.4 326.7,358.0 327.1,359.9 327.6,362.0 328.0,359.4 328.5,361.2 328.9,363.2 329.4,359.4 329.8,361.2 330.3,362.3 330.7,363.8 331.2,362.1 331.6,361.1 332.1,363.5 332.5,361.6 333.0,363.5 333.4,363.5 333.9,362.7 334.3,364.6 334.8,365.2 335.2,361.1 335.7,364.4 336.1,363.3 336.6,363.2 337.0,364.0 337.5,366.0 337.9,363.8 338.4,363.7 338.8,362.2 339.3,364.2 339.7,364.6 340.2,363.0 340.6,364.0 341.1,365.2 341.5,366.6 342.0,363.6 342.4,367.4 342.9,365.5 343.3,365.2 343.8,364.6 344.2,363.6 344.7,362.3 345.1,363.1 345.6,363.2 346.0,363.2 346.5,365.5 346.9,366.1 347.4,363.5 347.8,364.2 348.3,361.2 348.7,358.8 349.2,361.9 349.6,362.4 350.1,364.3 350.5,366.1 351.0,362.5 351.4,364.4 351.9,364.2 352.3,362.8 352.8,363.9 353.2,363.2 353.7,365.3 354.1,361.0 354.6,359.0 355.0,363.2 355.5,364.7 355.9,365.0 356.4,362.3 356.8,364.3 357.3,362.4 357.7,364.8 358.2,362.4 358.6,362.0 359.1,365.5 359.5,361.9 360.0,361.6 360.4,365.6 360.9,364.5 361.3,360.5 361.8,366.5 362.2,362.5 362.7,363.9 363.1,364.6 363.6,368.3 364.0,365.0 364.5,366.6 364.9,365.0 365.4,366.2 365.8,363.0 366.3,365.5 366.7,364.6 367.2,364.0 367.6,366.3 368.1,367.7 368.5,366.8 369.0,365.6 369.4,367.4 369.9,364.4 370.3,367.0 370.8,367.6 371.2,366.8 371.7,366.8 372.1,367.7 372.6,366.8 373.0,367.6 373.5,369.5 373.9,365.2 374.4,370.8 374.8,369.8 375.3,369.6 375.7,367.8 376.2,369.0 376.6,369.0 377.1,371.4 377.5,371.5 378.0,372.7 378.4,370.6 378.9,366.9 379.3,368.5 379.8,369.3 380.2,370.3 380.7,367.0 381.1,369.0 381.6,369.2 382.0,367.9 382.5,368.4 382.9,372.4 383.4,368.3 383.8,371.5 384.3,367.0 384.7,363.1 385.2,363.0 385.6,359.1 386.1,357.2 386.5,350.4 387.0,351.6 387.4,346.9 387.9,346.7 388.3,343.3 388.8,341.2 389.2,338.9 389.7,342.4 390.1,343.8 390.6,345.8 391.0,355.0 391.5,356.4 391.9,363.0 392.4,366.9 392.8,367.8 393.3,370.9 393.7,373.4 394.2,376.3 394.6,377.3 395.1,378.7 395.5,379.7 396.0,380.2 396.4,380.7 396.9,380.8 397.3,382.7 397.8,385.0 398.2,381.7 398.7,382.7 399.1,382.5 399.6,384.5 400.0,386.7 400.5,384.5 400.9,385.7 401.4,381.3 401.8,385.1 402.3,386.2 402.7,384.4 403.2,382.8 403.6,386.4 404.1,385.5 404.5,388.8 405.0,384.9 405.4,385.7 405.9,385.4 406.3,386.3 406.8,383.1 407.2,388.5 407.7,387.4 408.1,386.0 408.6,385.9 409.0,387.5 409.5,387.3 409.9,386.0 410.4,386.5 410.8,387.5 411.3,386.3 411.7,386.5 412.2,386.4 412.6,386.6 413.1,385.1 413.5,385.8 414.0,388.1 414.4,388.9 414.9,387.5 415.3,381.7 415.8,385.3 416.2,388.5 416.7,390.8 417.1,390.0 417.6,387.7 418.0,387.6 418.5,387.5 418.9,391.2 419.4,388.8 419.8,386.9 420.3,390.1 420.7,389.9 421.2,385.2 421.6,387.6 422.1,390.3 422.5,390.2 423.0,386.6 423.4,388.7 423.9,390.2 424.3,389.4 424.8,387.0 425.2,388.5 425.7,390.0 426.1,389.7 426.6,387.3 427.0,392.9 427.5,389.3 427.9,386.5 428.4,388.5 428.8,384.5 429.3,387.9 429.7,389.0 430.2,393.2 430.6,389.5 431.1,389.8 431.5,390.5 432.0,389.6 432.4,388.3 432.9,391.6 433.3,390.2 433.8,392.0 434.2,391.1 434.7,387.9 435.1,388.7 435.6,388.8 436.0,388.9 436.5,390.3 436.9,389.3 437.4,388.3 437.8,392.1 438.3,391.9 438.7,389.8 439.2,388.0 439.6,388.7 440.1,388.5 440.5,388.3 441.0,388.2 441.4,390.3 441.9,390.4 442.3,390.6 442.8,388.4 443.2,390.5 443.7,393.3 444.1,390.4 444.6,389.4 445.0,394.6 445.5,390.6 445.9,389.1 446.4,391.6 446.8,389.0 447.3,389.6 447.7,391.9 448.2,389.3 448.6,387.8 449.1,391.5 449.5,391.7 450.0,388.1 450.4,389.8 450.9,392.2 451.3,390.9 451.8,391.9 452.2,390.3 452.7,389.5 453.1,389.7 453.6,390.1 454.0,390.9 454.5,386.2 454.9,387.5 455.4,390.7 455.8,391.9 456.3,389.7 456.7,390.8 457.2,389.1 457.6,388.6 458.1,391.2 458.5,390.8 459.0,390.1 459.4,388.8 459.9,391.1 460.3,390.9 460.8,390.6 461.2,390.9 461.7,390.5 462.1,392.0 462.6,391.8 463.0,394.1 463.5,393.5 463.9,391.2 464.4,389.2 464.8,392.3 465.3,390.3 465.7,393.9 466.2,388.9 466.6,390.7 467.1,393.9 467.5,391.4 468.0,392.7 468.4,392.6 468.9,390.7 469.3,392.9 469.8,390.1 470.2,391.0 470.7,395.1 471.1,391.3 471.6,392.2 472.0,389.8 472.5,393.8 472.9,390.1 473.4,390.4 473.8,390.6 474.3,390.1 474.7,389.3 475.2,391.2 475.6,390.8 476.1,391.5 476.5,390.0 477.0,390.2 477.4,391.1 477.9,391.7 478.3,390.1 478.8,391.6 479.2,391.3 479.7,393.4 480.1,392.7 480.6,392.5 481.0,393.4 481.5,390.7 481.9,394.0 482.4,392.0 482.8,390.9 483.3,392.4 483.7,390.0 484.2,394.7 484.6,392.2 485.1,389.3 485.5,389.9 486.0,391.0 486.4,390.9 486.9,392.5 487.3,393.3 487.8,393.5 488.2,392.7 488.7,390.3 489.1,393.7 489.6,393.9 490.0,388.7 490.5,390.9 490.9,391.3 491.4,390.6 491.8,393.6 492.3,392.6 492.7,392.0 493.2,389.9 493.6,388.5 494.1,390.4 494.5,390.5 495.0,390.4 495.4,388.4 495.9,389.4 496.3,391.2 496.8,392.5 497.2,391.1 497.7,391.6 498.1,391.8 498.6,391.8 499.0,394.0 499.5,390.7 499.9,392.3 500.4,389.8 500.8,393.9 501.3,393.2 501.7,393.6 502.2,392.2 502.6,391.8 503.1,389.9 503.5,392.6 504.0,394.3 504.4,387.5 504.9,395.0 505.3,390.7 505.8,392.9 506.2,390.7 506.7,391.8 507.1,393.5 507.6,391.8 508.0,395.1 508.5,392.2 508.9,393.2 509.4,391.1 509.8,391.3 510.3,391.5 510.7,393.0 511.2,394.9 511.6,392.2" fill="none" stroke="#e2221c" stroke-width="1.3" stroke-linejoin="round"/>
<polyline points="156.2,387.7 156.6,388.8 157.1,387.5 157.5,390.6 158.0,389.8 158.4,388.0 158.9,389.2 159.3,391.4 159.8,390.6 160.2,388.9 160.7,391.0 161.1,390.4 161.6,388.9 162.0,390.1 162.5,392.9 162.9,388.0 163.4,391.5 163.8,389.6 164.3,390.8 164.7,390.5 165.2,390.3 165.6,389.5 166.1,389.8 166.5,390.9 167.0,390.6 167.4,387.4 167.9,390.6 168.3,392.0 168.8,391.3 169.2,390.1 169.7,386.8 170.1,390.8 170.6,390.9 171.0,392.2 171.5,388.2 171.9,389.4 172.4,388.9 172.8,389.4 173.3,386.9 173.7,389.0 174.2,389.1 174.6,389.2 175.1,392.4 175.5,388.7 176.0,389.0 176.4,391.6 176.9,388.9 177.3,391.8 177.8,390.5 178.2,388.7 178.7,388.6 179.1,390.0 179.6,389.5 180.0,389.9 180.5,388.8 180.9,390.8 181.4,388.7 181.8,389.0 182.3,389.5 182.7,387.7 183.2,389.2 183.6,389.4 184.1,387.4 184.5,386.8 185.0,391.8 185.4,389.3 185.9,389.5 186.3,388.7 186.8,392.4 187.2,389.4 187.7,386.8 188.1,390.6 188.6,388.1 189.0,390.5 189.5,389.5 189.9,391.9 190.4,390.6 190.8,389.2 191.3,392.2 191.7,394.3 192.2,388.9 192.6,391.6 193.1,390.5 193.5,390.6 194.0,387.8 194.4,388.2 194.9,392.2 195.3,390.1 195.8,389.0 196.2,392.9 196.7,392.0 197.1,391.2 197.6,388.3 198.0,389.9 198.5,392.4 198.9,386.6 199.4,387.3 199.8,388.6 200.3,391.6 200.7,390.4 201.2,390.8 201.6,390.3 202.1,390.2 202.5,392.1 203.0,396.1 203.4,390.8 203.9,392.3 204.3,389.3 204.8,392.8 205.2,390.3 205.7,390.4 206.1,389.3 206.6,388.8 207.0,389.2 207.5,388.5 207.9,388.0 208.4,393.3 208.8,390.9 209.3,391.8 209.7,391.0 210.2,387.8 210.6,390.3 211.1,388.7 211.5,388.9 212.0,390.0 212.4,390.5 212.9,390.4 213.3,390.5 213.8,389.8 214.2,390.3 214.7,392.4 215.1,394.0 215.6,392.2 216.0,389.9 216.5,391.0 216.9,391.9 217.4,392.0 217.8,392.4 218.3,392.4 218.7,391.0 219.2,389.9 219.6,387.8 220.1,392.2 220.5,391.4 221.0,388.9 221.4,390.4 221.9,389.7 222.3,389.7 222.8,393.4 223.2,389.8 223.7,394.5 224.1,390.2 224.6,389.2 225.0,390.7 225.5,394.5 225.9,390.2 226.4,391.3 226.8,386.6 227.3,391.5 227.7,388.2 228.2,390.3 228.6,392.8 229.1,390.1 229.5,391.7 230.0,390.1 230.4,390.0 230.9,391.0 231.3,392.4 231.8,390.7 232.2,390.5 232.7,388.9 233.1,387.7 233.6,390.8 234.0,390.3 234.5,391.1 234.9,392.4 235.4,392.0 235.8,389.1 236.3,391.1 236.7,391.1 237.2,390.2 237.6,386.8 238.1,389.3 238.5,390.5 239.0,391.9 239.4,390.1 239.9,388.3 240.3,393.0 240.8,390.6 241.2,389.8 241.7,391.5 242.1,391.8 242.6,390.4 243.0,389.5 243.5,389.6 243.9,391.8 244.4,390.2 244.8,391.3 245.3,387.2 245.7,389.6 246.2,389.7 246.6,389.6 247.1,387.0 247.5,389.6 248.0,393.0 248.4,390.8 248.9,389.4 249.3,389.0 249.8,387.9 250.2,390.6 250.7,388.8 251.1,389.5 251.6,391.6 252.0,391.7 252.5,391.1 252.9,387.3 253.4,389.1 253.8,392.0 254.3,388.0 254.7,392.1 255.2,389.9 255.6,391.6 256.1,389.2 256.5,387.9 257.0,388.2 257.4,392.3 257.9,389.3 258.3,387.7 258.8,391.2 259.2,387.2 259.7,389.5 260.1,390.3 260.6,390.2 261.0,390.4 261.5,389.5 261.9,385.5 262.4,390.1 262.8,389.5 263.3,389.3 263.7,390.4 264.2,390.9 264.6,389.9 265.1,392.0 265.5,393.1 266.0,389.7 266.4,388.4 266.9,386.6 267.3,389.7 267.8,385.5 268.2,391.2 268.7,389.9 269.1,387.1 269.6,389.0 270.0,386.2 270.5,385.7 270.9,388.7 271.4,385.5 271.8,387.5 272.3,386.7 272.7,389.4 273.2,387.1 273.6,389.1 274.1,387.7 274.5,384.8 275.0,383.9 275.4,382.2 275.9,385.7 276.3,380.7 276.8,383.9 277.2,381.0 277.7,383.9 278.1,386.0 278.6,383.1 279.0,383.5 279.5,383.5 279.9,384.6 280.4,381.4 280.8,383.9 281.3,383.3 281.7,381.5 282.2,381.4 282.6,384.9 283.1,383.9 283.5,383.2 284.0,380.8 284.4,381.5 284.9,379.6 285.3,378.6 285.8,380.6 286.2,380.2 286.7,378.9 287.1,378.7 287.6,381.2 288.0,379.6 288.5,377.5 288.9,383.5 289.4,376.8 289.8,379.9 290.3,377.7 290.7,380.3 291.2,379.1 291.6,380.5 292.1,378.4 292.5,377.0 293.0,380.4 293.4,377.6 293.9,377.1 294.3,376.9 294.8,375.7 295.2,377.3 295.7,379.2 296.1,378.7 296.6,376.4 297.0,376.7 297.5,376.6 297.9,374.0 298.4,377.3 298.8,375.0 299.3,371.2 299.7,375.0 300.2,372.2 300.6,374.0 301.1,374.3 301.5,372.4 302.0,373.1 302.4,374.7 302.9,369.8 303.3,369.1 303.8,372.5 304.2,372.6 304.7,376.9 305.1,375.4 305.6,375.0 306.0,374.2 306.5,371.5 306.9,372.9 307.4,374.9 307.8,376.1 308.3,375.4 308.7,376.7 309.2,378.0 309.6,376.0 310.1,376.7 310.5,375.8 311.0,379.4 311.4,373.9 311.9,378.4 312.3,378.6 312.8,373.8 313.2,376.4 313.7,379.1 314.1,375.7 314.6,376.2 315.0,377.1 315.5,379.4 315.9,378.2 316.4,375.9 316.8,374.7 317.3,374.5 317.7,377.6 318.2,373.3 318.6,376.0 319.1,377.9 319.5,374.8 320.0,376.3 320.4,376.6 320.9,378.1 321.3,374.5 321.8,376.9 322.2,376.6 322.7,376.9 323.1,374.0 323.6,377.5 324.0,375.2 324.5,376.4 324.9,375.1 325.4,379.9 325.8,376.6 326.3,380.1 326.7,375.4 327.2,376.0 327.6,378.9 328.1,375.8 328.5,377.1 329.0,378.3 329.4,375.7 329.9,375.2 330.3,375.9 330.8,378.1 331.2,377.1 331.7,378.6 332.1,376.0 332.6,375.6 333.0,374.6 333.5,376.0 333.9,375.5 334.4,376.3 334.8,375.0 335.3,375.4 335.7,376.1 336.2,378.3 336.6,376.1 337.1,375.7 337.5,378.4 338.0,379.0 338.4,376.2 338.9,376.3 339.3,373.7 339.8,374.2 340.2,376.7 340.7,379.1 341.1,379.9 341.6,378.1 342.0,375.9 342.5,377.6 342.9,374.2 343.4,376.5 343.8,374.6 344.3,376.6 344.7,379.0 345.2,380.3 345.6,376.9 346.1,377.2 346.5,373.7 347.0,375.4 347.4,379.0 347.9,378.4 348.3,377.8 348.8,377.2 349.2,379.2 349.7,375.9 350.1,376.1 350.6,381.3 351.0,375.2 351.5,377.6 351.9,376.3 352.4,379.7 352.8,376.8 353.3,376.8 353.7,377.0 354.2,379.1 354.6,376.2 355.1,375.5 355.5,378.0 356.0,377.7 356.4,379.4 356.9,378.0 357.3,377.7 357.8,379.4 358.2,379.8 358.7,380.9 359.1,379.5 359.6,376.4 360.0,379.6 360.5,380.1 360.9,380.3 361.4,381.8 361.8,380.8 362.3,383.6 362.7,381.6 363.2,384.8 363.6,381.0 364.1,379.2 364.5,382.0 365.0,388.9 365.4,383.6 365.9,383.9 366.3,384.6 366.8,383.4 367.2,384.6 367.7,384.4 368.1,387.7 368.6,386.3 369.0,384.7 369.5,385.5 369.9,385.3 370.4,382.5 370.8,386.3 371.3,383.3 371.7,385.8 372.2,384.7 372.6,386.0 373.1,386.9 373.5,385.5 374.0,383.7 374.4,384.0 374.9,385.5 375.3,383.5 375.8,383.1 376.2,383.0 376.7,382.1 377.1,383.2 377.6,381.0 378.0,381.5 378.5,379.6 378.9,377.4 379.4,381.2 379.8,381.0 380.3,376.0 380.7,374.8 381.2,370.6 381.6,364.6 382.1,365.2 382.5,356.3 383.0,356.2 383.4,360.3 383.9,360.0 384.3,367.4 384.8,366.5 385.2,372.4 385.7,372.7 386.1,377.4 386.6,380.0 387.0,387.6 387.5,385.1 387.9,387.0 388.4,387.3 388.8,387.2 389.3,387.2 389.7,389.1 390.2,390.9 390.6,391.6 391.1,391.8 391.5,391.4 392.0,393.7 392.4,390.9 392.9,392.7 393.3,389.3 393.8,391.8 394.2,392.8 394.7,390.8 395.1,391.3 395.6,395.0 396.0,394.4 396.5,395.5 396.9,395.7 397.4,395.0 397.8,395.3 398.3,394.6 398.7,396.4 399.2,391.7 399.6,394.1 400.1,396.3 400.5,396.0 401.0,394.7 401.4,394.1 401.9,396.1 402.3,394.4 402.8,392.9 403.2,396.8 403.7,394.2 404.1,395.2 404.6,392.2 405.0,390.6 405.5,395.8 405.9,397.9 406.4,391.2 406.8,394.2 407.3,396.1 407.7,395.5 408.2,395.3 408.6,395.2 409.1,393.7 409.5,397.2 410.0,397.0 410.4,396.0 410.9,391.5 411.3,398.3 411.8,395.4 412.2,396.4 412.7,398.9 413.1,397.9 413.6,395.5 414.0,397.5 414.5,396.8 414.9,394.8 415.4,396.0 415.8,392.8 416.3,393.2 416.7,396.3 417.2,398.4 417.6,394.3 418.1,398.1 418.5,396.3 419.0,399.2 419.4,395.6 419.9,401.2 420.3,397.0 420.8,395.9 421.2,396.8 421.7,393.2 422.1,397.0 422.6,395.9 423.0,397.3 423.5,396.0 423.9,391.9 424.4,392.1 424.8,395.5 425.3,394.5 425.7,398.2 426.2,394.9 426.6,397.5 427.1,396.5 427.5,399.5 428.0,397.0 428.4,397.2 428.9,395.2 429.3,397.6 429.8,398.1 430.2,396.8 430.7,398.2 431.1,395.3 431.6,396.7 432.0,397.8 432.5,396.6 432.9,399.2 433.4,398.2 433.8,396.1 434.3,395.6 434.7,397.1 435.2,395.9 435.6,396.5 436.1,395.3 436.5,398.5 437.0,397.5 437.4,397.7 437.9,398.6 438.3,393.3 438.8,397.3 439.2,396.9 439.7,398.5 440.1,398.2 440.6,398.2 441.0,399.6 441.5,394.2 441.9,395.6 442.4,399.5 442.8,399.9 443.3,396.0 443.7,399.3 444.2,398.9 444.6,395.1 445.1,396.4 445.5,398.1 446.0,397.4 446.4,400.6 446.9,398.6 447.3,399.1 447.8,396.4 448.2,395.5 448.7,396.5 449.1,400.0 449.6,400.8 450.0,396.2 450.5,397.4 450.9,393.4 451.4,399.8 451.8,395.5 452.3,399.2 452.7,399.9 453.2,395.4 453.6,396.2 454.1,399.0 454.5,400.1 455.0,396.9 455.4,396.0 455.9,398.4 456.3,400.0 456.8,395.9 457.2,396.5 457.7,399.8 458.1,398.2 458.6,396.5 459.0,397.9 459.5,398.7 459.9,399.6 460.4,398.4 460.8,397.9 461.3,395.1 461.7,398.9 462.2,398.8 462.6,398.3 463.1,398.0 463.5,398.2 464.0,399.6 464.4,397.4 464.9,396.0 465.3,399.6 465.8,397.4 466.2,397.6 466.7,398.8 467.1,397.7 467.6,398.0 468.0,396.2 468.5,400.4 468.9,395.9 469.4,400.4 469.8,396.0 470.3,397.0 470.7,397.5 471.2,399.7 471.6,398.6 472.1,397.5 472.5,396.2 473.0,400.0 473.4,398.4 473.9,399.1 474.3,398.0 474.8,397.5 475.2,399.5 475.7,398.9 476.1,400.4 476.6,398.8 477.0,396.1 477.5,399.8 477.9,398.6 478.4,398.1 478.8,393.3 479.3,397.1 479.7,398.9 480.2,397.6 480.6,399.1 481.1,399.7 481.5,398.7 482.0,397.1 482.4,399.4 482.9,399.4 483.3,398.3 483.8,395.5 484.2,396.7 484.7,400.2 485.1,398.4 485.6,395.8 486.0,398.5 486.5,399.0 486.9,400.0 487.4,399.7 487.8,399.6 488.3,397.6 488.7,396.1 489.2,397.9 489.6,401.3 490.1,396.4 490.5,400.6 491.0,396.5 491.4,396.9 491.9,399.3 492.3,397.7 492.8,398.7 493.2,397.2 493.7,399.4 494.1,400.6 494.6,396.7 495.0,400.1 495.5,399.9 495.9,400.6 496.4,395.4 496.8,400.8 497.3,397.3 497.7,398.9 498.2,398.6 498.6,397.6 499.1,397.9 499.5,398.1 500.0,399.7 500.4,400.7 500.9,398.9 501.3,400.8 501.8,399.7 502.2,401.4 502.7,397.3" fill="none" stroke="#1c28dc" stroke-width="1.3" stroke-linejoin="round"/>
<polyline points="148.5,409.7 148.9,409.4 149.4,409.7 149.8,410.0 150.3,410.8 150.7,409.7 151.2,410.3 151.6,408.9 152.1,409.2 152.5,408.4 153.0,411.2 153.4,410.8 153.9,411.6 154.3,408.6 154.8,409.1 155.2,413.6 155.7,411.2 156.1,407.0 156.6,410.7 157.0,410.0 157.5,408.8 157.9,408.9 158.4,408.0 158.8,408.5 159.3,408.1 159.7,407.4 160.2,408.8 160.6,407.9 161.1,410.6 161.5,411.2 162.0,409.2 162.4,408.8 162.9,410.5 163.3,409.2 163.8,412.8 164.2,404.9 164.7,405.5 165.1,407.6 165.6,410.2 166.0,410.7 166.5,408.6 166.9,409.5 167.4,408.9 167.8,410.3 168.3,412.9 168.7,405.6 169.2,413.2 169.6,411.2 170.1,408.9 170.5,410.3 171.0,409.4 171.4,410.3 171.9,410.3 172.3,410.8 172.8,407.7 173.2,410.5 173.7,408.3 174.1,408.9 174.6,410.8 175.0,408.7 175.5,410.0 175.9,410.0 176.4,409.6 176.8,407.4 177.3,410.3 177.7,409.8 178.2,413.3 178.6,407.7 179.1,411.3 179.5,408.8 180.0,409.0 180.4,412.4 180.9,409.2 181.3,410.8 181.8,409.7 182.2,407.9 182.7,409.1 183.1,408.7 183.6,409.1 184.0,412.7 184.5,410.3 184.9,406.5 185.4,412.7 185.8,410.1 186.3,411.0 186.7,412.1 187.2,408.1 187.6,410.1 188.1,409.2 188.5,408.9 189.0,409.0 189.4,409.7 189.9,411.5 190.3,410.8 190.8,410.0 191.2,411.6 191.7,405.6 192.1,409.6 192.6,410.2 193.0,410.1 193.5,412.0 193.9,409.9 194.4,411.9 194.8,409.3 195.3,410.8 195.7,409.8 196.2,409.2 196.6,410.5 197.1,410.6 197.5,408.1 198.0,411.3 198.4,409.2 198.9,409.9 199.3,405.1 199.8,409.7 200.2,406.5 200.7,411.2 201.1,408.4 201.6,409.0 202.0,409.4 202.5,407.5 202.9,409.8 203.4,407.7 203.8,409.4 204.3,411.2 204.7,412.0 205.2,412.2 205.6,409.4 206.1,408.2 206.5,410.6 207.0,412.5 207.4,408.3 207.9,412.1 208.3,409.6 208.8,405.4 209.2,410.0 209.7,413.1 210.1,411.1 210.6,411.7 211.0,410.6 211.5,407.0 211.9,405.9 212.4,408.1 212.8,409.3 213.3,408.2 213.7,408.6 214.2,411.3 214.6,412.4 215.1,407.1 215.5,408.2 216.0,409.8 216.4,409.6 216.9,406.0 217.3,415.0 217.8,411.2 218.2,410.6 218.7,406.7 219.1,410.5 219.6,408.0 220.0,410.9 220.5,410.6 220.9,410.1 221.4,410.8 221.8,409.1 222.3,410.4 222.7,406.0 223.2,411.4 223.6,409.8 224.1,414.4 224.5,410.3 225.0,406.1 225.4,412.8 225.9,408.9 226.3,408.2 226.8,410.1 227.2,412.4 227.7,413.5 228.1,409.5 228.6,410.6 229.0,410.6 229.5,409.1 229.9,409.4 230.4,410.0 230.8,410.1 231.3,412.1 231.7,407.0 232.2,411.1 232.6,410.9 233.1,412.6 233.5,409.6 234.0,409.7 234.4,410.5 234.9,409.3 235.3,409.3 235.8,409.2 236.2,409.2 236.7,408.6 237.1,409.3 237.6,409.0 238.0,409.1 238.5,408.1 238.9,412.0 239.4,410.9 239.8,410.3 240.3,408.5 240.7,411.4 241.2,409.8 241.6,410.0 242.1,410.3 242.5,409.9 243.0,411.7 243.4,408.6 243.9,408.8 244.3,410.2 244.8,409.5 245.2,410.7 245.7,411.3 246.1,412.1 246.6,411.3 247.0,409.1 247.5,409.3 247.9,408.9 248.4,411.4 248.8,409.0 249.3,407.9 249.7,407.5 250.2,410.5 250.6,407.7 251.1,404.7 251.5,410.3 252.0,409.6 252.4,410.3 252.9,410.7 253.3,409.8 253.8,409.5 254.2,408.9 254.7,407.4 255.1,405.1 255.6,405.3 256.0,409.3 256.5,410.0 256.9,408.6 257.4,407.2 257.8,409.5 258.3,408.3 258.7,408.4 259.2,407.7 259.6,406.3 260.1,406.5 260.5,408.7 261.0,410.6 261.4,410.7 261.9,407.2 262.3,408.1 262.8,407.0 263.2,407.2 263.7,407.5 264.1,408.2 264.6,404.5 265.0,409.3 265.5,405.9 265.9,404.3 266.4,409.7 266.8,404.1 267.3,405.4 267.7,404.0 268.2,407.1 268.6,400.4 269.1,405.3 269.5,401.9 270.0,407.1 270.4,407.8 270.9,405.5 271.3,402.6 271.8,405.7 272.2,407.3 272.7,403.8 273.1,402.6 273.6,405.6 274.0,400.6 274.5,402.2 274.9,402.5 275.4,402.6 275.8,404.1 276.3,401.8 276.7,400.0 277.2,399.3 277.6,401.3 278.1,402.1 278.5,402.8 279.0,402.1 279.4,398.5 279.9,401.6 280.3,399.3 280.8,402.3 281.2,399.2 281.7,399.0 282.1,398.2 282.6,400.5 283.0,398.3 283.5,402.9 283.9,399.9 284.4,395.6 284.8,397.2 285.3,398.8 285.7,398.0 286.2,397.4 286.6,396.5 287.1,393.1 287.5,392.9 288.0,396.5 288.4,393.7 288.9,394.4 289.3,395.1 289.8,390.4 290.2,390.0 290.7,393.7 291.1,391.5 291.6,391.5 292.0,393.6 292.5,390.8 292.9,390.8 293.4,391.0 293.8,387.2 294.3,392.4 294.7,389.4 295.2,386.9 295.6,389.0 296.1,385.3 296.5,387.6 297.0,388.6 297.4,392.3 297.9,393.3 298.3,395.9 298.8,394.8 299.2,396.9 299.7,397.7 300.1,397.8 300.6,397.4 301.0,396.5 301.5,394.6 301.9,392.3 302.4,395.8 302.8,392.5 303.3,395.0 303.7,394.0 304.2,393.6 304.6,393.3 305.1,393.9 305.5,390.8 306.0,392.6 306.4,393.5 306.9,392.6 307.3,392.7 307.8,390.0 308.2,389.9 308.7,392.8 309.1,390.1 309.6,389.2 310.0,390.1 310.5,386.5 310.9,387.3 311.4,388.6 311.8,388.1 312.3,391.2 312.7,389.8 313.2,390.9 313.6,388.4 314.1,390.2 314.5,390.6 315.0,391.9 315.4,391.8 315.9,391.0 316.3,391.9 316.8,394.5 317.2,390.9 317.7,389.7 318.1,392.9 318.6,393.3 319.0,391.1 319.5,392.4 319.9,387.3 320.4,391.5 320.8,390.4 321.3,394.5 321.7,391.1 322.2,393.8 322.6,390.4 323.1,390.3 323.5,389.8 324.0,388.7 324.4,389.8 324.9,392.6 325.3,388.1 325.8,390.9 326.2,392.6 326.7,391.2 327.1,391.6 327.6,391.3 328.0,391.6 328.5,387.5 328.9,393.3 329.4,391.3 329.8,389.8 330.3,390.2 330.7,390.5 331.2,391.9 331.6,388.7 332.1,388.6 332.5,388.5 333.0,392.3 333.4,389.2 333.9,391.0 334.3,388.8 334.8,390.6 335.2,389.9 335.7,389.5 336.1,392.7 336.6,390.9 337.0,389.1 337.5,394.8 337.9,389.2 338.4,388.8 338.8,387.9 339.3,393.5 339.7,391.1 340.2,391.4 340.6,392.9 341.1,391.5 341.5,392.7 342.0,394.5 342.4,392.3 342.9,393.4 343.3,392.6 343.8,392.7 344.2,395.1 344.7,393.8 345.1,393.5 345.6,390.0 346.0,391.9 346.5,392.5 346.9,393.8 347.4,394.7 347.8,394.5 348.3,394.2 348.7,395.2 349.2,395.4 349.6,396.5 350.1,392.2 350.5,397.2 351.0,399.1 351.4,397.9 351.9,395.5 352.3,395.0 352.8,396.7 353.2,399.3 353.7,397.7 354.1,394.1 354.6,392.2 355.0,398.4 355.5,402.3 355.9,395.8 356.4,397.7 356.8,399.0 357.3,399.8 357.7,401.0 358.2,397.1 358.6,400.2 359.1,398.8 359.5,401.2 360.0,400.3 360.4,401.4 360.9,397.3 361.3,397.3 361.8,397.8 362.2,398.1 362.7,397.5 363.1,396.5 363.6,397.5 364.0,395.6 364.5,399.9 364.9,397.2 365.4,395.8 365.8,398.1 366.3,394.9 366.7,398.1 367.2,396.7 367.6,400.1 368.1,398.0 368.5,395.4 369.0,397.5 369.4,395.4 369.9,395.6 370.3,388.5 370.8,392.2 371.2,391.4 371.7,393.6 372.1,388.9 372.6,390.5 373.0,388.8 373.5,385.9 373.9,386.5 374.4,387.5 374.8,385.5 375.3,384.7 375.7,385.2 376.2,388.2 376.6,391.4 377.1,393.3 377.5,393.4 378.0,397.9 378.4,400.8 378.9,404.8 379.3,401.6 379.8,407.2 380.2,404.8 380.7,409.7 381.1,404.7 381.6,409.0 382.0,406.6 382.5,408.2 382.9,410.1 383.4,411.8 383.8,409.8 384.3,411.6 384.7,409.9 385.2,414.2 385.6,410.6 386.1,415.1 386.5,414.9 387.0,410.5 387.4,413.0 387.9,411.5 388.3,414.9 388.8,413.1 389.2,415.8 389.7,412.5 390.1,412.4 390.6,411.7 391.0,413.4 391.5,414.0 391.9,413.5 392.4,414.0 392.8,414.9 393.3,413.6 393.7,412.8 394.2,412.3 394.6,413.1 395.1,413.6 395.5,416.0 396.0,416.0 396.4,413.3 396.9,415.7 397.3,413.2 397.8,416.3 398.2,412.2 398.7,416.8 399.1,414.9 399.6,415.7 400.0,415.3 400.5,413.7 400.9,415.7 401.4,415.6 401.8,416.9 402.3,416.7 402.7,417.8 403.2,416.7 403.6,413.9 404.1,417.2 404.5,413.9 405.0,414.7 405.4,416.1 405.9,414.6 406.3,415.4 406.8,417.8 407.2,415.1 407.7,414.7 408.1,414.1 408.6,421.1 409.0,415.6 409.5,416.5 409.9,416.5 410.4,418.4 410.8,415.6 411.3,415.1 411.7,416.0 412.2,415.4 412.6,414.3 413.1,413.6 413.5,416.9 414.0,416.1 414.4,419.3 414.9,416.1 415.3,416.4 415.8,419.1 416.2,414.2 416.7,418.5 417.1,415.8 417.6,415.3 418.0,417.9 418.5,417.5 418.9,415.4 419.4,417.8 419.8,420.1 420.3,418.9 420.7,417.7 421.2,416.6 421.6,417.5 422.1,418.5 422.5,417.3 423.0,418.5 423.4,419.5 423.9,415.3 424.3,418.2 424.8,418.8 425.2,417.5 425.7,416.9 426.1,420.6 426.6,418.0 427.0,418.0 427.5,417.3 427.9,417.8 428.4,417.8 428.8,418.2 429.3,415.9 429.7,415.7 430.2,417.4 430.6,417.9 431.1,417.5 431.5,419.7 432.0,418.5 432.4,419.8 432.9,419.0 433.3,414.8 433.8,419.5 434.2,421.1 434.7,418.9 435.1,418.6 435.6,416.8 436.0,419.2 436.5,417.0 436.9,415.8 437.4,419.2 437.8,420.3 438.3,418.4 438.7,418.6 439.2,417.8 439.6,421.6 440.1,419.6 440.5,418.4 441.0,418.5 441.4,419.3 441.9,420.9 442.3,418.2 442.8,417.6 443.2,419.6 443.7,418.9 444.1,416.7 444.6,419.0 445.0,418.7 445.5,418.5 445.9,419.5 446.4,419.7 446.8,422.1 447.3,420.4 447.7,420.8 448.2,418.6 448.6,419.4 449.1,418.3 449.5,418.2 450.0,420.8 450.4,423.1 450.9,420.7 451.3,420.2 451.8,420.4 452.2,420.9 452.7,419.5 453.1,419.5 453.6,420.7 454.0,422.4 454.5,419.8 454.9,416.9 455.4,421.0 455.8,420.1 456.3,418.4 456.7,418.4 457.2,414.5 457.6,418.5 458.1,419.5 458.5,420.7 459.0,419.8 459.4,418.3 459.9,419.2 460.3,420.0 460.8,421.0 461.2,420.5 461.7,421.4 462.1,416.8 462.6,420.4 463.0,420.5 463.5,418.5 463.9,420.4 464.4,419.2 464.8,418.0 465.3,417.9 465.7,421.0 466.2,421.1 466.6,422.0 467.1,421.4 467.5,421.0 468.0,418.4 468.4,419.9 468.9,419.8 469.3,423.6 469.8,418.8 470.2,418.1 470.7,418.6 471.1,422.0 471.6,419.2 472.0,421.6 472.5,419.5 472.9,422.1 473.4,417.8 473.8,419.6 474.3,421.4 474.7,420.0 475.2,418.9 475.6,422.8 476.1,418.1 476.5,419.0 477.0,422.4 477.4,423.3 477.9,420.5 478.3,418.4 478.8,418.4 479.2,419.1 479.7,420.4 480.1,422.8 480.6,422.1 481.0,422.2 481.5,419.8 481.9,421.9 482.4,422.0 482.8,422.1 483.3,420.6 483.7,420.0 484.2,422.5 484.6,423.3 485.1,420.3 485.5,421.3 486.0,422.6 486.4,423.3 486.9,423.7 487.3,420.8 487.8,422.9 488.2,418.8 488.7,417.1 489.1,420.1 489.6,421.4 490.0,418.3 490.5,420.6 490.9,421.2 491.4,420.8 491.8,421.4 492.3,422.8 492.7,420.5 493.2,420.2 493.6,421.9 494.1,422.8 494.5,420.2 495.0,423.3 495.4,422.2" fill="none" stroke="#f0a02a" stroke-width="1.3" stroke-linejoin="round"/>
<polyline points="142.0,420.9 142.4,421.5 142.9,420.2 143.3,422.7 143.8,421.8 144.2,425.0 144.7,417.3 145.1,419.6 145.6,420.9 146.0,422.6 146.5,421.2 146.9,420.6 147.4,422.5 147.8,421.1 148.3,422.3 148.7,423.4 149.2,423.6 149.6,419.3 150.1,420.7 150.5,422.7 151.0,421.7 151.4,420.8 151.9,423.1 152.3,422.3 152.8,422.9 153.2,423.7 153.7,421.6 154.1,423.9 154.6,422.5 155.0,422.7 155.5,424.0 155.9,419.6 156.4,419.6 156.8,420.5 157.3,423.8 157.7,422.6 158.2,421.5 158.6,420.7 159.1,419.7 159.5,423.0 160.0,422.5 160.4,423.2 160.9,424.1 161.3,423.1 161.8,424.9 162.2,422.0 162.7,425.2 163.1,423.4 163.6,421.9 164.0,423.1 164.5,426.4 164.9,420.8 165.4,421.9 165.8,422.2 166.3,423.2 166.7,423.0 167.2,426.1 167.6,422.7 168.1,424.1 168.5,422.2 169.0,421.2 169.4,422.8 169.9,422.7 170.3,424.3 170.8,425.4 171.2,422.4 171.7,425.0 172.1,421.6 172.6,426.2 173.0,420.9 173.5,422.5 173.9,423.8 174.4,422.7 174.8,421.5 175.3,424.6 175.7,421.8 176.2,425.1 176.6,421.1 177.1,425.2 177.5,424.9 178.0,424.4 178.4,425.3 178.9,423.3 179.3,423.5 179.8,425.6 180.2,422.0 180.7,423.2 181.1,423.3 181.6,423.3 182.0,423.2 182.5,419.6 182.9,423.6 183.4,424.1 183.8,425.7 184.3,424.9 184.7,422.6 185.2,423.2 185.6,422.1 186.1,423.0 186.5,422.6 187.0,425.4 187.4,424.2 187.9,424.6 188.3,423.0 188.8,423.3 189.2,424.5 189.7,422.3 190.1,424.5 190.6,425.0 191.0,422.6 191.5,423.6 191.9,422.2 192.4,426.3 192.8,424.3 193.3,425.4 193.7,423.3 194.2,422.2 194.6,423.5 195.1,425.9 195.5,426.3 196.0,424.9 196.4,423.6 196.9,424.3 197.3,425.4 197.8,421.9 198.2,425.1 198.7,422.3 199.1,424.1 199.6,424.8 200.0,424.1 200.5,423.8 200.9,425.8 201.4,423.0 201.8,423.1 202.3,422.1 202.7,424.0 203.2,424.9 203.6,423.5 204.1,420.5 204.5,424.4 205.0,424.7 205.4,422.2 205.9,423.3 206.3,423.7 206.8,422.4 207.2,424.1 207.7,423.8 208.1,421.7 208.6,419.1 209.0,422.1 209.5,425.9 209.9,425.6 210.4,423.1 210.8,421.8 211.3,426.0 211.7,424.8 212.2,425.7 212.6,426.7 213.1,424.3 213.5,423.7 214.0,422.3 214.4,423.8 214.9,422.0 215.3,425.4 215.8,423.2 216.2,426.2 216.7,423.0 217.1,424.3 217.6,422.3 218.0,425.0 218.5,422.2 218.9,425.7 219.4,424.5 219.8,420.5 220.3,421.3 220.7,424.0 221.2,423.5 221.6,426.9 222.1,422.1 222.5,423.2 223.0,423.6 223.4,423.9 223.9,426.4 224.3,423.4 224.8,420.9 225.2,426.2 225.7,424.3 226.1,421.1 226.6,422.4 227.0,423.0 227.5,423.8 227.9,424.9 228.4,423.2 228.8,422.7 229.3,421.9 229.7,423.3 230.2,423.7 230.6,424.3 231.1,420.0 231.5,422.1 232.0,424.3 232.4,426.3 232.9,425.0 233.3,419.7 233.8,420.3 234.2,424.5 234.7,423.6 235.1,423.6 235.6,426.8 236.0,421.8 236.5,425.5 236.9,423.7 237.4,422.5 237.8,420.0 238.3,421.6 238.7,426.0 239.2,423.7 239.6,424.8 240.1,424.4 240.5,423.1 241.0,424.6 241.4,423.6 241.9,422.7 242.3,422.3 242.8,421.5 243.2,423.1 243.7,422.2 244.1,424.2 244.6,421.7 245.0,420.6 245.5,418.9 245.9,423.1 246.4,425.9 246.8,421.6 247.3,417.8 247.7,422.9 248.2,420.1 248.6,422.3 249.1,421.6 249.5,422.1 250.0,421.0 250.4,420.2 250.9,422.3 251.3,419.9 251.8,422.2 252.2,419.1 252.7,420.3 253.1,418.7 253.6,421.3 254.0,418.5 254.5,418.2 254.9,421.0 255.4,419.8 255.8,419.0 256.3,417.4 256.7,418.8 257.2,419.4 257.6,419.8 258.1,417.3 258.5,419.2 259.0,415.1 259.4,418.2 259.9,416.5 260.3,419.0 260.8,417.0 261.2,421.3 261.7,417.6 262.1,417.7 262.6,413.2 263.0,414.5 263.5,418.3 263.9,415.4 264.4,418.2 264.8,415.0 265.3,417.0 265.7,414.5 266.2,416.3 266.6,416.6 267.1,416.8 267.5,413.9 268.0,412.8 268.4,415.7 268.9,415.0 269.3,415.5 269.8,412.2 270.2,415.3 270.7,413.6 271.1,412.0 271.6,412.8 272.0,414.9 272.5,413.5 272.9,413.3 273.4,413.0 273.8,412.1 274.3,414.6 274.7,412.4 275.2,409.8 275.6,409.6 276.1,410.9 276.5,411.1 277.0,412.7 277.4,407.0 277.9,412.5 278.3,413.0 278.8,410.1 279.2,412.8 279.7,409.4 280.1,410.0 280.6,409.0 281.0,412.1 281.5,411.0 281.9,410.5 282.4,406.3 282.8,408.0 283.3,405.5 283.7,407.3 284.2,407.6 284.6,408.5 285.1,405.6 285.5,405.8 286.0,404.8 286.4,401.7 286.9,404.8 287.3,401.2 287.8,401.5 288.2,400.8 288.7,398.9 289.1,401.7 289.6,405.6 290.0,407.5 290.5,407.6 290.9,406.9 291.4,408.7 291.8,406.0 292.3,407.6 292.7,406.5 293.2,410.5 293.6,409.9 294.1,410.8 294.5,409.6 295.0,406.1 295.4,409.0 295.9,410.6 296.3,410.4 296.8,411.8 297.2,412.1 297.7,409.2 298.1,411.5 298.6,407.2 299.0,411.2 299.5,406.4 299.9,410.8 300.4,406.1 300.8,410.7 301.3,412.6 301.7,409.5 302.2,411.0 302.6,411.6 303.1,405.1 303.5,406.4 304.0,409.6 304.4,407.7 304.9,408.8 305.3,414.1 305.8,412.6 306.2,410.5 306.7,408.2 307.1,410.3 307.6,409.9 308.0,409.0 308.5,412.1 308.9,405.9 309.4,411.9 309.8,408.4 310.3,411.3 310.7,408.8 311.2,408.0 311.6,407.8 312.1,409.4 312.5,409.5 313.0,414.1 313.4,411.6 313.9,408.7 314.3,406.6 314.8,408.9 315.2,409.7 315.7,405.7 316.1,408.6 316.6,410.8 317.0,407.7 317.5,405.7 317.9,409.7 318.4,411.2 318.8,408.0 319.3,408.6 319.7,410.3 320.2,409.2 320.6,406.9 321.1,407.4 321.5,407.8 322.0,407.8 322.4,409.8 322.9,405.9 323.3,408.2 323.8,407.2 324.2,403.8 324.7,408.5 325.1,407.4 325.6,404.8 326.0,403.9 326.5,408.5 326.9,409.7 327.4,406.8 327.8,406.2 328.3,407.7 328.7,405.2 329.2,405.4 329.6,407.8 330.1,404.1 330.5,408.0 331.0,406.4 331.4,408.0 331.9,402.4 332.3,407.8 332.8,405.3 333.2,406.5 333.7,403.8 334.1,403.4 334.6,407.1 335.0,405.8 335.5,406.3 335.9,406.8 336.4,407.0 336.8,403.5 337.3,406.0 337.7,406.2 338.2,410.6 338.6,409.7 339.1,406.2 339.5,405.4 340.0,409.5 340.4,409.4 340.9,411.0 341.3,406.7 341.8,411.8 342.2,409.4 342.7,411.4 343.1,409.8 343.6,408.8 344.0,408.3 344.5,412.2 344.9,404.3 345.4,412.0 345.8,411.4 346.3,409.2 346.7,411.9 347.2,410.5 347.6,408.6 348.1,410.5 348.5,412.1 349.0,411.3 349.4,410.1 349.9,412.7 350.3,413.1 350.8,414.2 351.2,412.8 351.7,415.3 352.1,411.7 352.6,412.5 353.0,411.0 353.5,413.7 353.9,414.2 354.4,414.3 354.8,412.4 355.3,416.7 355.7,412.1 356.2,413.6 356.6,410.3 357.1,417.5 357.5,417.3 358.0,415.8 358.4,416.9 358.9,414.4 359.3,414.9 359.8,415.3 360.2,417.7 360.7,416.7 361.1,417.9 361.6,415.9 362.0,415.5 362.5,417.1 362.9,415.3 363.4,414.1 363.8,410.7 364.3,410.8 364.7,406.1 365.2,404.9 365.6,404.7 366.1,399.9 366.5,396.7 367.0,394.6 367.4,401.1 367.9,399.4 368.3,402.7 368.8,403.8 369.2,410.4 369.7,407.9 370.1,411.6 370.6,412.5 371.0,412.8 371.5,413.2 371.9,411.7 372.4,416.5 372.8,420.5 373.3,418.7 373.7,422.5 374.2,421.4 374.6,422.9 375.1,421.6 375.5,423.3 376.0,425.5 376.4,426.8 376.9,423.2 377.3,422.7 377.8,425.1 378.2,425.3 378.7,426.5 379.1,428.8 379.6,425.0 380.0,429.4 380.5,427.3 380.9,426.5 381.4,423.6 381.8,429.4 382.3,430.0 382.7,427.9 383.2,428.1 383.6,426.6 384.1,424.1 384.5,426.3 385.0,425.3 385.4,425.6 385.9,426.6 386.3,427.3 386.8,429.3 387.2,430.9 387.7,428.4 388.1,430.3 388.6,428.4 389.0,428.7 389.5,430.0 389.9,428.4 390.4,430.0 390.8,428.8 391.3,428.2 391.7,428.6 392.2,432.5 392.6,430.3 393.1,429.2 393.5,430.3 394.0,428.8 394.4,429.3 394.9,429.6 395.3,427.4 395.8,430.1 396.2,431.2 396.7,431.0 397.1,430.3 397.6,432.5 398.0,429.3 398.5,432.7 398.9,432.5 399.4,431.2 399.8,433.6 400.3,429.7 400.7,431.5 401.2,430.9 401.6,429.9 402.1,430.7 402.5,432.1 403.0,432.1 403.4,432.6 403.9,430.4 404.3,431.5 404.8,431.5 405.2,430.6 405.7,431.8 406.1,428.2 406.6,430.0 407.0,431.2 407.5,431.5 407.9,433.3 408.4,431.3 408.8,435.2 409.3,429.9 409.7,435.6 410.2,430.9 410.6,430.6 411.1,431.4 411.5,431.6 412.0,432.3 412.4,432.0 412.9,433.7 413.3,434.3 413.8,431.2 414.2,435.2 414.7,433.6 415.1,433.2 415.6,434.8 416.0,433.2 416.5,435.9 416.9,431.4 417.4,435.6 417.8,432.8 418.3,435.0 418.7,433.0 419.2,436.7 419.6,434.6 420.1,435.3 420.5,432.2 421.0,431.5 421.4,434.5 421.9,436.7 422.3,434.4 422.8,431.6 423.2,437.0 423.7,433.3 424.1,435.5 424.6,432.8 425.0,433.0 425.5,434.7 425.9,429.8 426.4,432.6 426.8,433.6 427.3,433.6 427.7,431.6 428.2,436.2 428.6,434.0 429.1,434.1 429.5,431.2 430.0,434.3 430.4,435.5 430.9,435.9 431.3,435.5 431.8,434.3 432.2,434.1 432.7,434.8 433.1,435.7 433.6,434.2 434.0,434.2 434.5,435.2 434.9,434.2 435.4,435.1 435.8,434.9 436.3,433.1 436.7,437.2 437.2,435.9 437.6,433.2 438.1,433.1 438.5,434.0 439.0,433.8 439.4,433.2 439.9,435.2 440.3,434.3 440.8,433.3 441.2,437.5 441.7,434.3 442.1,435.5 442.6,432.7 443.0,433.1 443.5,433.3 443.9,436.6 444.4,436.2 444.8,434.7 445.3,434.6 445.7,435.6 446.2,433.7 446.6,434.7 447.1,436.7 447.5,433.7 448.0,436.3 448.4,435.0 448.9,435.6 449.3,435.0 449.8,436.7 450.2,436.8 450.7,436.2 451.1,432.6 451.6,435.6 452.0,437.4 452.5,433.7 452.9,432.9 453.4,435.1 453.8,436.8 454.3,433.4 454.7,436.1 455.2,435.1 455.6,435.5 456.1,436.3 456.5,435.3 457.0,434.7 457.4,435.9 457.9,438.3 458.3,436.7 458.8,436.9 459.2,434.2 459.7,434.9 460.1,433.6 460.6,437.4 461.0,437.5 461.5,436.6 461.9,437.2 462.4,435.2 462.8,435.3 463.3,438.0 463.7,435.3 464.2,437.7 464.6,438.8 465.1,434.1 465.5,434.6 466.0,438.9 466.4,437.7 466.9,438.7 467.3,438.9 467.8,435.6 468.2,439.5 468.7,438.5 469.1,437.9 469.6,436.8 470.0,435.6 470.5,435.0 470.9,433.9 471.4,434.9 471.8,435.0 472.3,436.6 472.7,435.2 473.2,433.4 473.6,436.7 474.1,432.9 474.5,435.8 475.0,437.6 475.4,433.8 475.9,434.4 476.3,436.4 476.8,438.7 477.2,436.3 477.7,435.8 478.1,437.0 478.6,433.6 479.0,434.0 479.5,437.7 479.9,437.9 480.4,437.6 480.8,436.8 481.3,437.4 481.7,433.7 482.2,434.8 482.6,436.0 483.1,438.3 483.5,437.0 484.0,436.8 484.4,434.9 484.9,437.0 485.3,437.4 485.8,437.8 486.2,436.6 486.7,440.3 487.1,434.9" fill="none" stroke="#1e9090" stroke-width="1.3" stroke-linejoin="round"/>
<polyline points="134.0,441.7 134.4,438.0 134.9,438.0 135.3,441.4 135.8,439.5 136.2,438.9 136.7,440.2 137.1,444.4 137.6,439.1 138.0,439.5 138.5,442.2 138.9,439.1 139.4,444.1 139.8,437.9 140.3,439.7 140.7,441.7 141.2,439.6 141.6,439.2 142.1,437.6 142.5,439.7 143.0,441.4 143.4,439.5 143.9,438.2 144.3,442.2 144.8,441.3 145.2,440.9 145.7,439.5 146.1,438.4 146.6,441.8 147.0,439.9 147.5,439.2 147.9,439.5 148.4,440.4 148.8,441.2 149.3,439.7 149.7,439.1 150.2,437.8 150.6,439.2 151.1,439.3 151.5,440.2 152.0,439.6 152.4,438.7 152.9,439.4 153.3,440.6 153.8,439.4 154.2,439.3 154.7,439.1 155.1,439.0 155.6,440.1 156.0,440.5 156.5,439.0 156.9,439.2 157.4,440.1 157.8,440.7 158.3,441.8 158.7,437.2 159.2,440.8 159.6,438.6 160.1,440.4 160.5,440.9 161.0,442.4 161.4,438.5 161.9,441.0 162.3,435.2 162.8,439.4 163.2,435.6 163.7,438.1 164.1,437.4 164.6,436.8 165.0,439.2 165.5,437.4 165.9,437.2 166.4,437.8 166.8,438.3 167.3,440.0 167.7,438.4 168.2,437.5 168.6,436.2 169.1,440.0 169.5,439.5 170.0,440.1 170.4,437.9 170.9,441.0 171.3,439.9 171.8,442.8 172.2,438.4 172.7,440.4 173.1,441.7 173.6,438.5 174.0,438.9 174.5,438.1 174.9,438.4 175.4,440.2 175.8,439.2 176.3,437.1 176.7,443.0 177.2,437.6 177.6,440.8 178.1,438.9 178.5,439.9 179.0,439.7 179.4,440.1 179.9,440.1 180.3,441.6 180.8,437.4 181.2,436.3 181.7,435.6 182.1,434.8 182.6,439.0 183.0,435.1 183.5,435.2 183.9,438.2 184.4,437.2 184.8,437.8 185.3,433.0 185.7,435.2 186.2,434.7 186.6,437.1 187.1,437.0 187.5,437.6 188.0,438.9 188.4,442.6 188.9,435.8 189.3,437.7 189.8,438.0 190.2,436.3 190.7,434.9 191.1,438.2 191.6,438.3 192.0,437.9 192.5,435.8 192.9,433.4 193.4,435.5 193.8,439.4 194.3,439.5 194.7,435.9 195.2,438.1 195.6,440.0 196.1,440.2 196.5,436.5 197.0,437.9 197.4,438.2 197.9,436.5 198.3,441.5 198.8,435.7 199.2,439.4 199.7,440.6 200.1,439.7 200.6,440.2 201.0,435.2 201.5,439.1 201.9,439.5 202.4,439.5 202.8,436.8 203.3,438.7 203.7,437.7 204.2,441.5 204.6,438.0 205.1,438.9 205.5,438.8 206.0,438.8 206.4,442.1 206.9,441.7 207.3,439.9 207.8,438.7 208.2,438.5 208.7,436.1 209.1,439.4 209.6,439.8 210.0,439.0 210.5,437.8 210.9,441.4 211.4,440.7 211.8,439.7 212.3,442.1 212.7,439.8 213.2,442.5 213.6,439.1 214.1,439.7 214.5,438.5 215.0,441.0 215.4,438.6 215.9,440.1 216.3,439.5 216.8,438.0 217.2,442.9 217.7,441.0 218.1,438.7 218.6,440.4 219.0,439.5 219.5,438.1 219.9,441.9 220.4,440.2 220.8,439.7 221.3,439.5 221.7,439.7 222.2,439.8 222.6,438.9 223.1,438.7 223.5,438.6 224.0,435.7 224.4,437.9 224.9,440.2 225.3,440.7 225.8,438.4 226.2,436.6 226.7,439.6 227.1,436.5 227.6,436.1 228.0,435.4 228.5,434.2 228.9,440.8 229.4,437.6 229.8,432.6 230.3,436.0 230.7,434.4 231.2,438.7 231.6,436.1 232.1,435.8 232.5,438.1 233.0,439.7 233.4,435.6 233.9,436.7 234.3,435.1 234.8,438.3 235.2,437.1 235.7,436.8 236.1,435.1 236.6,438.9 237.0,435.9 237.5,438.3 237.9,438.3 238.4,434.3 238.8,435.8 239.3,436.5 239.7,434.2 240.2,435.8 240.6,436.4 241.1,433.0 241.5,435.2 242.0,436.2 242.4,434.9 242.9,434.6 243.3,433.1 243.8,435.5 244.2,435.7 244.7,435.2 245.1,437.6 245.6,435.2 246.0,434.4 246.5,438.0 246.9,436.2 247.4,436.8 247.8,437.1 248.3,434.0 248.7,433.2 249.2,437.5 249.6,431.5 250.1,433.7 250.5,437.3 251.0,433.4 251.4,435.7 251.9,433.0 252.3,438.3 252.8,434.1 253.2,435.6 253.7,431.9 254.1,435.3 254.6,435.2 255.0,433.2 255.5,435.1 255.9,433.5 256.4,434.5 256.8,432.9 257.3,432.9 257.7,431.5 258.2,434.3 258.6,433.1 259.1,432.2 259.5,436.2 260.0,433.3 260.4,432.9 260.9,431.7 261.3,434.3 261.8,432.8 262.2,430.9 262.7,431.7 263.1,432.9 263.6,431.9 264.0,433.5 264.5,433.1 264.9,434.9 265.4,429.8 265.8,430.7 266.3,430.1 266.7,429.9 267.2,430.3 267.6,429.4 268.1,431.3 268.5,427.5 269.0,429.5 269.4,430.2 269.9,430.7 270.3,428.7 270.8,429.1 271.2,428.5 271.7,429.0 272.1,427.7 272.6,429.0 273.0,429.8 273.5,430.9 273.9,426.6 274.4,428.4 274.8,427.2 275.3,427.3 275.7,425.6 276.2,426.3 276.6,426.9 277.1,425.8 277.5,424.9 278.0,427.4 278.4,425.3 278.9,424.5 279.3,424.8 279.8,424.2 280.2,423.1 280.7,425.0 281.1,423.5 281.6,421.8 282.0,426.5 282.5,425.0 282.9,424.0 283.4,427.2 283.8,427.0 284.3,429.3 284.7,427.9 285.2,429.7 285.6,427.9 286.1,428.6 286.5,431.4 287.0,430.5 287.4,434.3 287.9,430.8 288.3,432.6 288.8,430.4 289.2,435.3 289.7,433.2 290.1,430.6 290.6,433.4 291.0,431.9 291.5,436.1 291.9,434.1 292.4,430.7 292.8,433.0 293.3,432.4 293.7,430.8 294.2,430.6 294.6,430.5 295.1,429.0 295.5,430.9 296.0,429.4 296.4,429.8 296.9,429.2 297.3,428.3 297.8,432.5 298.2,429.8 298.7,430.8 299.1,434.4 299.6,430.1 300.0,429.3 300.5,427.9 300.9,428.6 301.4,432.3 301.8,429.2 302.3,428.4 302.7,432.2 303.2,432.3 303.6,435.5 304.1,430.5 304.5,434.9 305.0,429.6 305.4,435.7 305.9,434.1 306.3,432.2 306.8,435.9 307.2,434.2 307.7,435.0 308.1,434.1 308.6,436.1 309.0,435.3 309.5,432.7 309.9,432.9 310.4,433.0 310.8,435.7 311.3,435.4 311.7,434.8 312.2,434.0 312.6,433.4 313.1,434.9 313.5,435.7 314.0,435.6 314.4,437.0 314.9,437.2 315.3,433.6 315.8,438.5 316.2,436.8 316.7,434.7 317.1,434.8 317.6,435.1 318.0,433.3 318.5,433.0 318.9,434.2 319.4,433.5 319.8,429.3 320.3,435.2 320.7,430.9 321.2,434.7 321.6,433.5 322.1,433.0 322.5,435.3 323.0,432.7 323.4,432.4 323.9,434.5 324.3,434.4 324.8,432.8 325.2,432.7 325.7,432.7 326.1,434.5 326.6,434.6 327.0,435.3 327.5,433.7 327.9,432.4 328.4,435.1 328.8,438.3 329.3,436.5 329.7,432.1 330.2,435.1 330.6,433.6 331.1,433.6 331.5,433.3 332.0,432.4 332.4,431.2 332.9,434.5 333.3,432.0 333.8,432.8 334.2,433.0 334.7,433.8 335.1,432.9 335.6,433.4 336.0,432.9 336.5,434.1 336.9,434.2 337.4,436.1 337.8,434.5 338.3,432.6 338.7,434.5 339.2,435.1 339.6,432.6 340.1,432.6 340.5,429.8 341.0,436.1 341.4,433.9 341.9,436.0 342.3,431.2 342.8,429.8 343.2,434.4 343.7,432.5 344.1,434.2 344.6,432.6 345.0,435.4 345.5,433.5 345.9,433.8 346.4,434.9 346.8,433.4 347.3,433.6 347.7,436.3 348.2,434.1 348.6,434.7 349.1,435.2 349.5,434.6 350.0,435.3 350.4,437.5 350.9,435.9 351.3,431.5 351.8,430.0 352.2,432.0 352.7,429.3 353.1,428.5 353.6,431.1 354.0,431.1 354.5,432.8 354.9,433.0 355.4,435.2 355.8,429.5 356.3,428.8 356.7,429.4 357.2,430.1 357.6,427.0 358.1,424.5 358.5,418.2 359.0,420.8 359.4,415.7 359.9,415.4 360.3,412.5 360.8,409.4 361.2,403.6 361.7,401.0 362.1,396.4 362.6,403.4 363.0,406.0 363.5,412.4 363.9,413.7 364.4,420.2 364.8,425.4 365.3,432.7 365.7,430.9 366.2,430.1 366.6,432.3 367.1,431.8 367.5,437.1 368.0,438.3 368.4,437.5 368.9,438.9 369.3,437.0 369.8,443.2 370.2,441.0 370.7,444.6 371.1,440.3 371.6,442.2 372.0,443.0 372.5,443.0 372.9,441.6 373.4,443.7 373.8,442.6 374.3,442.1 374.7,440.5 375.2,444.5 375.6,442.5 376.1,443.4 376.5,442.5 377.0,443.4 377.4,442.3 377.9,447.3 378.3,446.2 378.8,444.4 379.2,443.8 379.7,444.6 380.1,442.1 380.6,444.6 381.0,443.4 381.5,442.9 381.9,442.5 382.4,442.5 382.8,444.5 383.3,443.7 383.7,442.4 384.2,444.4 384.6,444.0 385.1,443.6 385.5,446.2 386.0,443.4 386.4,441.6 386.9,444.1 387.3,442.2 387.8,445.3 388.2,444.9 388.7,443.4 389.1,444.8 389.6,443.3 390.0,443.2 390.5,441.1 390.9,440.6 391.4,443.4 391.8,447.0 392.3,442.1 392.7,444.0 393.2,443.1 393.6,445.0 394.1,442.8 394.5,444.0 395.0,444.9 395.4,443.4 395.9,444.0 396.3,444.0 396.8,445.2 397.2,445.4 397.7,445.6 398.1,445.1 398.6,442.8 399.0,443.8 399.5,445.3 399.9,444.6 400.4,446.0 400.8,442.4 401.3,443.1 401.7,443.2 402.2,445.1 402.6,443.6 403.1,443.2 403.5,445.2 404.0,444.0 404.4,442.9 404.9,445.4 405.3,444.6 405.8,445.6 406.2,445.7 406.7,443.8 407.1,444.4 407.6,444.6 408.0,446.0 408.5,444.8 408.9,446.6 409.4,444.0 409.8,445.0 410.3,447.1 410.7,442.7 411.2,443.0 411.6,446.2 412.1,446.3 412.5,446.7 413.0,446.5 413.4,446.8 413.9,444.4 414.3,445.2 414.8,446.1 415.2,443.3 415.7,443.2 416.1,444.3 416.6,446.9 417.0,446.6 417.5,443.2 417.9,444.5 418.4,444.5 418.8,445.5 419.3,445.8 419.7,445.5 420.2,444.0 420.6,447.3 421.1,447.2 421.5,443.8 422.0,445.3 422.4,447.3 422.9,446.1 423.3,446.4 423.8,444.9 424.2,447.9 424.7,443.9 425.1,447.2 425.6,448.5 426.0,444.5 426.5,447.9 426.9,447.1 427.4,444.7 427.8,446.0 428.3,448.1 428.7,445.1 429.2,445.1 429.6,441.2 430.1,443.2 430.5,445.3 431.0,445.7 431.4,446.9 431.9,447.3 432.3,449.1 432.8,447.1 433.2,450.7 433.7,447.2 434.1,448.2 434.6,444.7 435.0,446.8 435.5,447.7 435.9,447.7 436.4,445.4 436.8,446.1 437.3,444.1 437.7,446.7 438.2,444.5 438.6,447.8 439.1,446.6 439.5,447.4 440.0,447.2 440.4,447.0 440.9,447.6 441.3,446.4 441.8,443.7 442.2,448.4 442.7,445.2 443.1,447.9 443.6,447.3 444.0,447.0 444.5,446.7 444.9,446.9 445.4,446.8 445.8,446.5 446.3,446.3 446.7,447.0 447.2,447.5 447.6,445.9 448.1,447.0 448.5,444.4 449.0,445.3 449.4,443.8 449.9,446.2 450.3,447.3 450.8,447.8 451.2,444.5 451.7,448.0 452.1,445.0 452.6,446.1 453.0,445.9 453.5,449.3 453.9,447.1 454.4,450.2 454.8,448.4 455.3,446.4 455.7,447.5 456.2,449.1 456.6,445.5 457.1,446.1 457.5,446.9 458.0,446.4 458.4,446.5 458.9,449.7 459.3,447.2 459.8,446.5 460.2,446.4 460.7,444.9 461.1,448.4 461.6,446.1 462.0,452.9 462.5,447.9 462.9,446.3 463.4,445.3 463.8,446.5 464.3,448.0 464.7,446.4 465.2,448.4 465.6,448.5 466.1,448.4 466.5,448.3 467.0,447.5 467.4,446.5 467.9,445.6 468.3,445.0 468.8,446.9 469.2,448.8 469.7,447.7 470.1,446.1 470.6,449.2 471.0,446.2 471.5,445.9 471.9,446.3 472.4,446.8 472.8,447.8 473.3,445.9 473.7,445.4 474.2,448.7 474.6,448.4 475.1,448.8 475.5,449.3 476.0,448.2 476.4,451.0 476.9,447.9 477.3,448.1 477.8,450.4 478.2,448.9" fill="none" stroke="#7f2ee2" stroke-width="1.3" stroke-linejoin="round"/>
<line x1="133.6" y1="454.4" x2="480.5" y2="454.4" stroke="#555" stroke-width="1.2"/>
<line x1="133.6" y1="454.4" x2="133.6" y2="459.5" stroke="#555" stroke-width="1"/>
<text x="133.6" y="472" font-size="12" fill="#5e5e5e" font-weight="normal" text-anchor="middle" font-family="'Liberation Sans', sans-serif" letter-spacing="0.4" stroke="#5e5e5e" stroke-width="0.2">100</text>
<line x1="152.8" y1="454.4" x2="152.8" y2="457.5" stroke="#555" stroke-width="1"/>
<line x1="172.1" y1="454.4" x2="172.1" y2="459.5" stroke="#555" stroke-width="1"/>
<text x="172.1" y="472" font-size="12" fill="#5e5e5e" font-weight="normal" text-anchor="middle" font-family="'Liberation Sans', sans-serif" letter-spacing="0.4" stroke="#5e5e5e" stroke-width="0.2">200</text>
<line x1="191.3" y1="454.4" x2="191.3" y2="457.5" stroke="#555" stroke-width="1"/>
<line x1="210.6" y1="454.4" x2="210.6" y2="459.5" stroke="#555" stroke-width="1"/>
<text x="210.6" y="472" font-size="12" fill="#5e5e5e" font-weight="normal" text-anchor="middle" font-family="'Liberation Sans', sans-serif" letter-spacing="0.4" stroke="#5e5e5e" stroke-width="0.2">300</text>
<line x1="229.8" y1="454.4" x2="229.8" y2="457.5" stroke="#555" stroke-width="1"/>
<line x1="249.1" y1="454.4" x2="249.1" y2="459.5" stroke="#555" stroke-width="1"/>
<text x="249.1" y="472" font-size="12" fill="#5e5e5e" font-weight="normal" text-anchor="middle" font-family="'Liberation Sans', sans-serif" letter-spacing="0.4" stroke="#5e5e5e" stroke-width="0.2">400</text>
<line x1="268.4" y1="454.4" x2="268.4" y2="457.5" stroke="#555" stroke-width="1"/>
<line x1="287.6" y1="454.4" x2="287.6" y2="459.5" stroke="#555" stroke-width="1"/>
<text x="287.6" y="472" font-size="12" fill="#5e5e5e" font-weight="normal" text-anchor="middle" font-family="'Liberation Sans', sans-serif" letter-spacing="0.4" stroke="#5e5e5e" stroke-width="0.2">500</text>
<line x1="306.9" y1="454.4" x2="306.9" y2="457.5" stroke="#555" stroke-width="1"/>
<line x1="326.1" y1="454.4" x2="326.1" y2="459.5" stroke="#555" stroke-width="1"/>
<text x="326.1" y="472" font-size="12" fill="#5e5e5e" font-weight="normal" text-anchor="middle" font-family="'Liberation Sans', sans-serif" letter-spacing="0.4" stroke="#5e5e5e" stroke-width="0.2">600</text>
<line x1="345.4" y1="454.4" x2="345.4" y2="457.5" stroke="#555" stroke-width="1"/>
<line x1="364.6" y1="454.4" x2="364.6" y2="459.5" stroke="#555" stroke-width="1"/>
<text x="364.6" y="472" font-size="12" fill="#5e5e5e" font-weight="normal" text-anchor="middle" font-family="'Liberation Sans', sans-serif" letter-spacing="0.4" stroke="#5e5e5e" stroke-width="0.2">700</text>
<line x1="383.9" y1="454.4" x2="383.9" y2="457.5" stroke="#555" stroke-width="1"/>
<line x1="403.1" y1="454.4" x2="403.1" y2="459.5" stroke="#555" stroke-width="1"/>
<text x="403.1" y="472" font-size="12" fill="#5e5e5e" font-weight="normal" text-anchor="middle" font-family="'Liberation Sans', sans-serif" letter-spacing="0.4" stroke="#5e5e5e" stroke-width="0.2">800</text>
<line x1="422.4" y1="454.4" x2="422.4" y2="457.5" stroke="#555" stroke-width="1"/>
<line x1="441.6" y1="454.4" x2="441.6" y2="459.5" stroke="#555" stroke-width="1"/>
<text x="441.6" y="472" font-size="12" fill="#5e5e5e" font-weight="normal" text-anchor="middle" font-family="'Liberation Sans', sans-serif" letter-spacing="0.4" stroke="#5e5e5e" stroke-width="0.2">900</text>
<line x1="460.9" y1="454.4" x2="460.9" y2="457.5" stroke="#555" stroke-width="1"/>
<line x1="480.1" y1="454.4" x2="480.1" y2="459.5" stroke="#555" stroke-width="1"/>
<text x="480.1" y="472" font-size="12" fill="#5e5e5e" font-weight="normal" text-anchor="middle" font-family="'Liberation Sans', sans-serif" letter-spacing="0.4" stroke="#5e5e5e" stroke-width="0.2">1000</text>
<text x="392.6" y="493.4" font-size="14.4" fill="#000" font-weight="bold" font-family="'Liberation Sans', sans-serif">Raman Shift (cm<tspan font-size="9.5" dy="-5.5">-1</tspan><tspan dy="5.5">)</tspan></text>
<ellipse cx="233.6" cy="450.4" rx="38.8" ry="15.3" fill="#f1d4ae"/>
<text x="216" y="455.7" font-size="14.2" fill="#000" font-weight="bold" font-family="'Liberation Sans', sans-serif">CeO<tspan font-size="10" dy="3.2">2</tspan></text>
<line x1="269.7" y1="443.4" x2="279.5" y2="431.4" stroke="#98a2b4" stroke-width="0.8"/>
<text x="505.4" y="317" font-size="10.8" fill="#262626" font-weight="normal" text-anchor="start" font-family="'Liberation Sans', sans-serif" stroke="#262626" stroke-width="0.4">500 °C</text>
<text x="500.6" y="333.6" font-size="10.8" fill="#262626" font-weight="normal" text-anchor="start" font-family="'Liberation Sans', sans-serif" stroke="#262626" stroke-width="0.4">400 °C</text>
<text x="487.3" y="356" font-size="10.8" fill="#262626" font-weight="normal" text-anchor="start" font-family="'Liberation Sans', sans-serif" stroke="#262626" stroke-width="0.4">300 °C</text>
<text x="481.8" y="376.6" font-size="10.8" fill="#262626" font-weight="normal" text-anchor="start" font-family="'Liberation Sans', sans-serif" stroke="#262626" stroke-width="0.4">250 °C</text>
<text x="480.6" y="393" font-size="10.8" fill="#262626" font-weight="normal" text-anchor="start" font-family="'Liberation Sans', sans-serif" stroke="#262626" stroke-width="0.4">200 °C</text>
<text x="506.1" y="406" font-size="11.5" fill="#111" font-family="'Liberation Sans', sans-serif">175 <tspan font-size="7.5" dy="-4">o</tspan><tspan dy="4">C</tspan></text>
<text x="414.2" y="415" font-size="10.8" fill="#262626" font-weight="normal" text-anchor="start" font-family="'Liberation Sans', sans-serif" stroke="#262626" stroke-width="0.4">140  °C – 180 min</text>
<text x="407.6" y="432.4" font-size="10.8" fill="#262626" font-weight="normal" text-anchor="start" font-family="'Liberation Sans', sans-serif" stroke="#262626" stroke-width="0.4">140  °C – 60 min</text>
<text x="460.4" y="447.5" font-size="10.8" fill="#262626" font-weight="normal" text-anchor="start" font-family="'Liberation Sans', sans-serif" stroke="#262626" stroke-width="0.4">25 °C</text>
</svg>
</body></html>
